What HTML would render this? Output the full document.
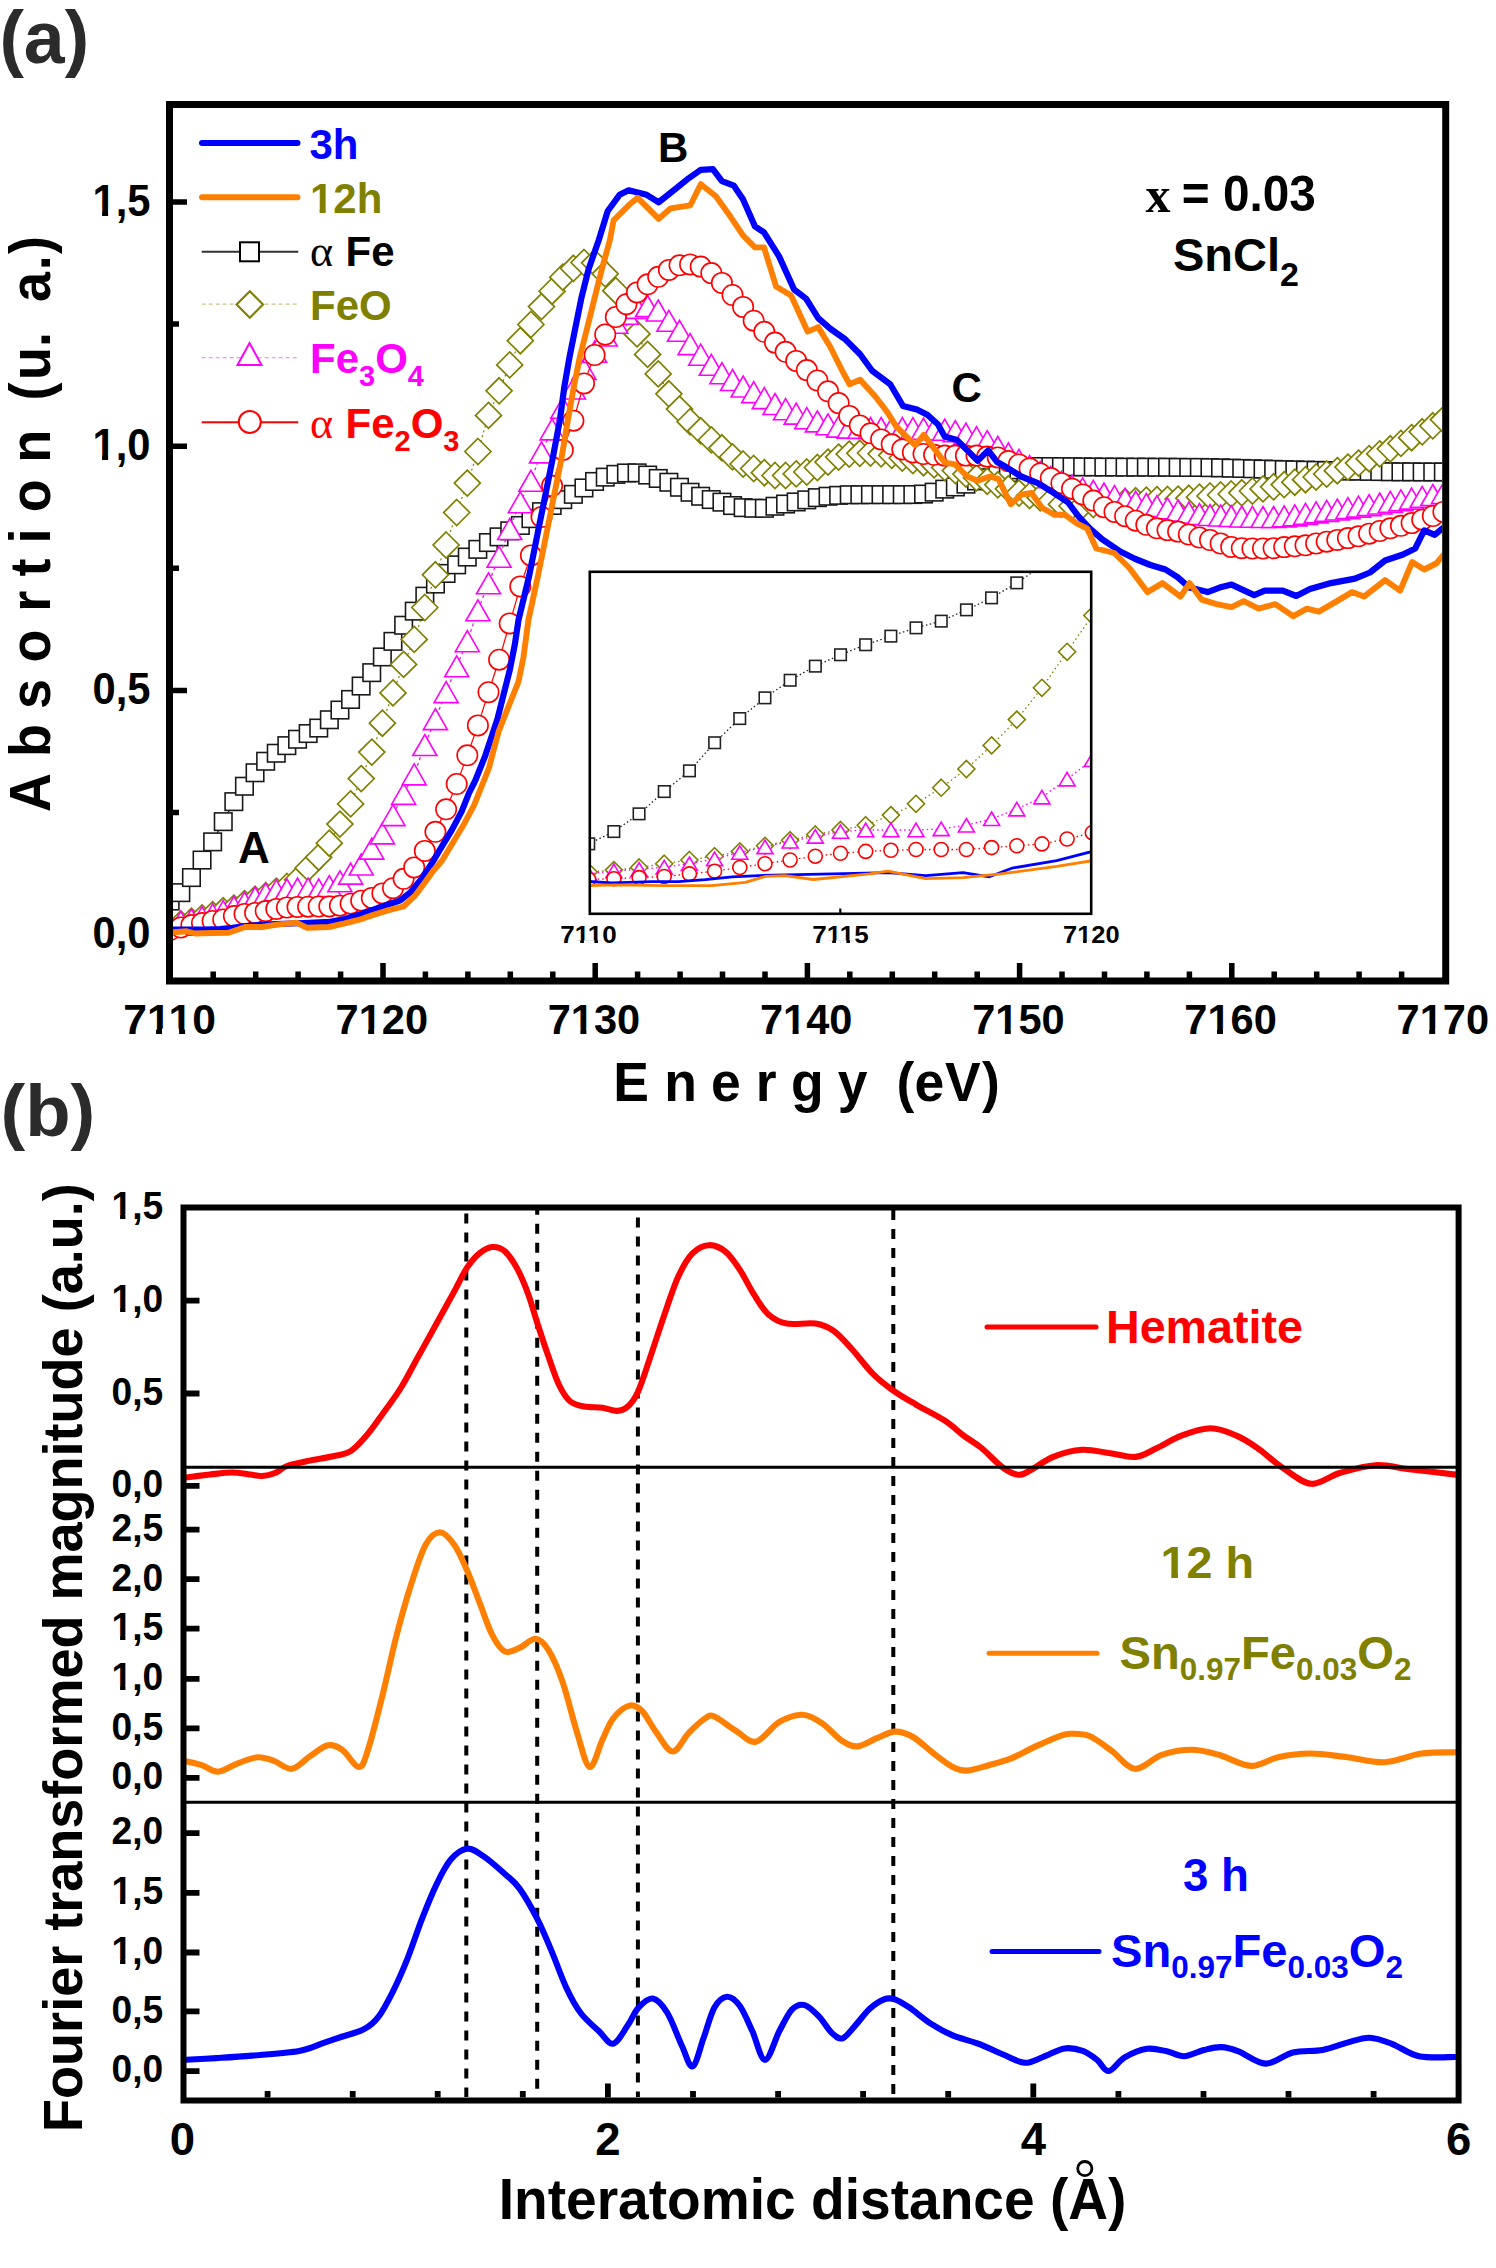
<!DOCTYPE html>
<html><head><meta charset="utf-8"><style>html,body{margin:0;padding:0;background:#fff;}svg{display:block;}</style></head><body>
<svg width="1496" height="2268" viewBox="0 0 1496 2268">
<rect width="1496" height="2268" fill="#fff"/>
<defs><clipPath id="ca"><rect x="173" y="108" width="1269" height="870"/></clipPath><clipPath id="ci"><rect x="589.8" y="571.8" width="501.4" height="342"/></clipPath><clipPath id="cb"><rect x="186" y="1210" width="1270" height="887"/></clipPath></defs>
<text x="-0.6" y="62.8" font-family="&apos;Liberation Sans&apos;, sans-serif" font-size="75" font-weight="bold" fill="#2b2b2b" text-anchor="start" textLength="89.8" lengthAdjust="spacingAndGlyphs" >(a)</text>
<text x="0.4" y="1135.8" font-family="&apos;Liberation Sans&apos;, sans-serif" font-size="73" font-weight="bold" fill="#2b2b2b" text-anchor="start" textLength="94.9" lengthAdjust="spacingAndGlyphs" >(b)</text>
<g clip-path="url(#ca)">
<path d="M170.2,901 L180.8,892.6 L191.4,877.5 L202,860 L212.6,841.9 L223.2,821.7 L233.9,801.7 L244.5,786.3 L255.1,772.8 L265.7,761.2 L276.3,753.3 L286.9,745.6 L297.5,739.2 L308.1,733.6 L318.7,728 L329.3,719.8 L339.9,710.1 L350.6,699.4 L361.2,686.1 L371.8,672.7 L382.4,656.9 L393,641.4 L403.6,625.2 L414.2,611.1 L424.8,596.2 L435.4,584.1 L446.1,573.5 L456.7,564.9 L467.3,557 L477.9,549.3 L488.5,542.5 L499.1,536.9 L509.7,530.9 L520.3,525.4 L530.9,518.6 L541.5,511.7 L552.1,505.4 L562.8,499.6 L573.4,494.3 L584,487.9 L594.6,481.4 L605.2,477.2 L615.8,474.4 L626.4,472.9 L637,472.9 L647.6,475 L658.2,478.5 L668.9,482.2 L679.5,487.2 L690.1,492.2 L700.7,496.3 L711.3,499.6 L721.9,502.2 L732.5,505.6 L743.1,507.6 L753.7,508.3 L764.3,508.3 L775,506.3 L785.6,504.1 L796.2,502 L806.8,499.9 L817.4,497.6 L828,496.2 L838.6,495.3 L849.2,494.8 L859.8,494.7 L870.5,494.7 L881.1,494.7 L891.7,494.7 L902.3,494.7 L912.9,494.5 L923.5,494.1 L934.1,492.1 L944.7,489.1 L955.3,486.9 L965.9,484.1 L976.5,480.9 L987.2,477.8 L997.8,475 L1008.4,472.5 L1019,469.9 L1029.6,467.7 L1040.2,466.5 L1050.8,466.5 L1061.4,466.6 L1072,466.7 L1082.6,466.9 L1093.3,467 L1103.9,467 L1114.5,467.1 L1125.1,467.1 L1135.7,467.1 L1146.3,467.2 L1156.9,467.2 L1167.5,467.3 L1178.1,467.3 L1188.8,467.4 L1199.4,467.5 L1210,467.6 L1220.6,467.9 L1231.2,468.2 L1241.8,468.5 L1252.4,468.8 L1263,469 L1273.6,469.3 L1284.2,469.6 L1294.8,469.9 L1305.5,470.1 L1316.1,470.3 L1326.7,470.6 L1337.3,470.8 L1347.9,471 L1358.5,471.2 L1369.1,471.4 L1379.7,471.5 L1390.3,471.7 L1400.9,471.8 L1411.6,471.9 L1422.2,471.9 L1432.8,472 L1443.4,472" fill="none" stroke="#1a1a1a" stroke-width="1.2" />
<g fill="#fff" stroke="#1a1a1a" stroke-width="1.6"><rect x="161.4" y="892.3" width="17.5" height="17.5"/><rect x="172.1" y="883.9" width="17.5" height="17.5"/><rect x="182.7" y="868.8" width="17.5" height="17.5"/><rect x="193.3" y="851.3" width="17.5" height="17.5"/><rect x="203.9" y="833.1" width="17.5" height="17.5"/><rect x="214.5" y="812.9" width="17.5" height="17.5"/><rect x="225.1" y="792.9" width="17.5" height="17.5"/><rect x="235.7" y="777.5" width="17.5" height="17.5"/><rect x="246.3" y="764" width="17.5" height="17.5"/><rect x="256.9" y="752.5" width="17.5" height="17.5"/><rect x="267.5" y="744.5" width="17.5" height="17.5"/><rect x="278.1" y="736.9" width="17.5" height="17.5"/><rect x="288.8" y="730.5" width="17.5" height="17.5"/><rect x="299.4" y="724.8" width="17.5" height="17.5"/><rect x="310" y="719.3" width="17.5" height="17.5"/><rect x="320.6" y="711" width="17.5" height="17.5"/><rect x="331.2" y="701.3" width="17.5" height="17.5"/><rect x="341.8" y="690.7" width="17.5" height="17.5"/><rect x="352.4" y="677.3" width="17.5" height="17.5"/><rect x="363" y="663.9" width="17.5" height="17.5"/><rect x="373.6" y="648.2" width="17.5" height="17.5"/><rect x="384.2" y="632.6" width="17.5" height="17.5"/><rect x="394.9" y="616.5" width="17.5" height="17.5"/><rect x="405.5" y="602.4" width="17.5" height="17.5"/><rect x="416.1" y="587.4" width="17.5" height="17.5"/><rect x="426.7" y="575.3" width="17.5" height="17.5"/><rect x="437.3" y="564.7" width="17.5" height="17.5"/><rect x="447.9" y="556.1" width="17.5" height="17.5"/><rect x="458.5" y="548.3" width="17.5" height="17.5"/><rect x="469.1" y="540.6" width="17.5" height="17.5"/><rect x="479.7" y="533.8" width="17.5" height="17.5"/><rect x="490.3" y="528.1" width="17.5" height="17.5"/><rect x="501" y="522.1" width="17.5" height="17.5"/><rect x="511.6" y="516.7" width="17.5" height="17.5"/><rect x="522.2" y="509.9" width="17.5" height="17.5"/><rect x="532.8" y="502.9" width="17.5" height="17.5"/><rect x="543.4" y="496.7" width="17.5" height="17.5"/><rect x="554" y="490.9" width="17.5" height="17.5"/><rect x="564.6" y="485.6" width="17.5" height="17.5"/><rect x="575.2" y="479.2" width="17.5" height="17.5"/><rect x="585.8" y="472.7" width="17.5" height="17.5"/><rect x="596.5" y="468.4" width="17.5" height="17.5"/><rect x="607.1" y="465.6" width="17.5" height="17.5"/><rect x="617.7" y="464.2" width="17.5" height="17.5"/><rect x="628.3" y="464.1" width="17.5" height="17.5"/><rect x="638.9" y="466.3" width="17.5" height="17.5"/><rect x="649.5" y="469.7" width="17.5" height="17.5"/><rect x="660.1" y="473.5" width="17.5" height="17.5"/><rect x="670.7" y="478.5" width="17.5" height="17.5"/><rect x="681.3" y="483.5" width="17.5" height="17.5"/><rect x="691.9" y="487.5" width="17.5" height="17.5"/><rect x="702.5" y="490.8" width="17.5" height="17.5"/><rect x="713.2" y="493.4" width="17.5" height="17.5"/><rect x="723.8" y="496.8" width="17.5" height="17.5"/><rect x="734.4" y="498.9" width="17.5" height="17.5"/><rect x="745" y="499.5" width="17.5" height="17.5"/><rect x="755.6" y="499.6" width="17.5" height="17.5"/><rect x="766.2" y="497.5" width="17.5" height="17.5"/><rect x="776.8" y="495.3" width="17.5" height="17.5"/><rect x="787.4" y="493.2" width="17.5" height="17.5"/><rect x="798" y="491.1" width="17.5" height="17.5"/><rect x="808.6" y="488.9" width="17.5" height="17.5"/><rect x="819.3" y="487.5" width="17.5" height="17.5"/><rect x="829.9" y="486.6" width="17.5" height="17.5"/><rect x="840.5" y="486" width="17.5" height="17.5"/><rect x="851.1" y="486" width="17.5" height="17.5"/><rect x="861.7" y="485.9" width="17.5" height="17.5"/><rect x="872.3" y="485.9" width="17.5" height="17.5"/><rect x="882.9" y="485.9" width="17.5" height="17.5"/><rect x="893.5" y="485.9" width="17.5" height="17.5"/><rect x="904.1" y="485.8" width="17.5" height="17.5"/><rect x="914.8" y="485.3" width="17.5" height="17.5"/><rect x="925.4" y="483.4" width="17.5" height="17.5"/><rect x="936" y="480.4" width="17.5" height="17.5"/><rect x="946.6" y="478.2" width="17.5" height="17.5"/><rect x="957.2" y="475.4" width="17.5" height="17.5"/><rect x="967.8" y="472.2" width="17.5" height="17.5"/><rect x="978.4" y="469" width="17.5" height="17.5"/><rect x="989" y="466.3" width="17.5" height="17.5"/><rect x="999.6" y="463.8" width="17.5" height="17.5"/><rect x="1010.2" y="461.1" width="17.5" height="17.5"/><rect x="1020.8" y="459" width="17.5" height="17.5"/><rect x="1031.5" y="457.8" width="17.5" height="17.5"/><rect x="1042.1" y="457.8" width="17.5" height="17.5"/><rect x="1052.7" y="457.9" width="17.5" height="17.5"/><rect x="1063.3" y="458" width="17.5" height="17.5"/><rect x="1073.9" y="458.1" width="17.5" height="17.5"/><rect x="1084.5" y="458.2" width="17.5" height="17.5"/><rect x="1095.1" y="458.3" width="17.5" height="17.5"/><rect x="1105.7" y="458.3" width="17.5" height="17.5"/><rect x="1116.3" y="458.4" width="17.5" height="17.5"/><rect x="1127" y="458.4" width="17.5" height="17.5"/><rect x="1137.6" y="458.4" width="17.5" height="17.5"/><rect x="1148.2" y="458.5" width="17.5" height="17.5"/><rect x="1158.8" y="458.5" width="17.5" height="17.5"/><rect x="1169.4" y="458.6" width="17.5" height="17.5"/><rect x="1180" y="458.7" width="17.5" height="17.5"/><rect x="1190.6" y="458.7" width="17.5" height="17.5"/><rect x="1201.2" y="458.9" width="17.5" height="17.5"/><rect x="1211.8" y="459.1" width="17.5" height="17.5"/><rect x="1222.4" y="459.4" width="17.5" height="17.5"/><rect x="1233" y="459.7" width="17.5" height="17.5"/><rect x="1243.7" y="460" width="17.5" height="17.5"/><rect x="1254.3" y="460.3" width="17.5" height="17.5"/><rect x="1264.9" y="460.6" width="17.5" height="17.5"/><rect x="1275.5" y="460.9" width="17.5" height="17.5"/><rect x="1286.1" y="461.1" width="17.5" height="17.5"/><rect x="1296.7" y="461.4" width="17.5" height="17.5"/><rect x="1307.3" y="461.6" width="17.5" height="17.5"/><rect x="1317.9" y="461.8" width="17.5" height="17.5"/><rect x="1328.5" y="462" width="17.5" height="17.5"/><rect x="1339.1" y="462.2" width="17.5" height="17.5"/><rect x="1349.8" y="462.4" width="17.5" height="17.5"/><rect x="1360.4" y="462.6" width="17.5" height="17.5"/><rect x="1371" y="462.8" width="17.5" height="17.5"/><rect x="1381.6" y="463" width="17.5" height="17.5"/><rect x="1392.2" y="463.1" width="17.5" height="17.5"/><rect x="1402.8" y="463.1" width="17.5" height="17.5"/><rect x="1413.4" y="463.2" width="17.5" height="17.5"/><rect x="1424" y="463.2" width="17.5" height="17.5"/><rect x="1434.6" y="463.2" width="17.5" height="17.5"/></g>
<path d="M170.2,928.9 L180.8,923.8 L191.4,921.2 L202,917.9 L212.6,914.7 L223.2,910.8 L233.9,908.1 L244.5,903.6 L255.1,899.3 L265.7,895.7 L276.3,891.2 L286.9,886.5 L297.5,879.7 L308.1,867.9 L318.7,857.2 L329.3,843.2 L339.9,824.1 L350.6,803.9 L361.2,778.6 L371.8,752.1 L382.4,723.2 L393,692.9 L403.6,664.4 L414.2,639.4 L424.8,607.5 L435.4,574.8 L446.1,545 L456.7,512.5 L467.3,483.1 L477.9,451.5 L488.5,415.4 L499.1,390.8 L509.7,364.9 L520.3,340.7 L530.9,324.5 L541.5,306.6 L552.1,291.2 L562.8,277.2 L573.4,268.3 L584,262.5 L594.6,262.8 L605.2,273.8 L615.8,290.7 L626.4,312.3 L637,333.9 L647.6,354.4 L658.2,373.9 L668.9,393.8 L679.5,409.1 L690.1,421.7 L700.7,430.8 L711.3,439.9 L721.9,447.8 L732.5,456.9 L743.1,464 L753.7,468.5 L764.3,472.7 L775,475.5 L785.6,475.5 L796.2,473.9 L806.8,472 L817.4,467.5 L828,462.1 L838.6,457.1 L849.2,454.1 L859.8,453.3 L870.5,453 L881.1,453.8 L891.7,455.3 L902.3,458 L912.9,460.6 L923.5,462.7 L934.1,464.9 L944.7,467.6 L955.3,470.6 L965.9,474.1 L976.5,477.8 L987.2,481.3 L997.8,484.8 L1008.4,488.8 L1019,493.1 L1029.6,495.6 L1040.2,497.7 L1050.8,501 L1061.4,504.2 L1072,506 L1082.6,505.3 L1093.3,504.5 L1103.9,503.5 L1114.5,502.5 L1125.1,501.6 L1135.7,500.8 L1146.3,500.2 L1156.9,499.7 L1167.5,499.5 L1178.1,499.1 L1188.8,498.3 L1199.4,497.2 L1210,496 L1220.6,495 L1231.2,494 L1241.8,492.8 L1252.4,491 L1263,488.9 L1273.6,486.8 L1284.2,484.6 L1294.8,482.2 L1305.5,479.7 L1316.1,477 L1326.7,474 L1337.3,470.7 L1347.9,467.1 L1358.5,463.1 L1369.1,458.7 L1379.7,453.9 L1390.3,448.8 L1400.9,443.4 L1411.6,437.7 L1422.2,431.8 L1432.8,425.8 L1443.4,419.6" fill="none" stroke="#808000" stroke-width="1.2" stroke-dasharray="2 3"/>
<g fill="#fff" stroke="#808000" stroke-width="1.7"><path d="M170.2,915.9 L183.2,928.9 L170.2,941.9 L157.2,928.9Z"/><path d="M180.8,910.8 L193.8,923.8 L180.8,936.8 L167.8,923.8Z"/><path d="M191.4,908.2 L204.4,921.2 L191.4,934.2 L178.4,921.2Z"/><path d="M202,904.9 L215,917.9 L202,930.9 L189,917.9Z"/><path d="M212.6,901.7 L225.6,914.7 L212.6,927.7 L199.6,914.7Z"/><path d="M223.2,897.8 L236.2,910.8 L223.2,923.8 L210.2,910.8Z"/><path d="M233.9,895.1 L246.9,908.1 L233.9,921.1 L220.9,908.1Z"/><path d="M244.5,890.6 L257.5,903.6 L244.5,916.6 L231.5,903.6Z"/><path d="M255.1,886.3 L268.1,899.3 L255.1,912.3 L242.1,899.3Z"/><path d="M265.7,882.7 L278.7,895.7 L265.7,908.7 L252.7,895.7Z"/><path d="M276.3,878.2 L289.3,891.2 L276.3,904.2 L263.3,891.2Z"/><path d="M286.9,873.5 L299.9,886.5 L286.9,899.5 L273.9,886.5Z"/><path d="M297.5,866.7 L310.5,879.7 L297.5,892.7 L284.5,879.7Z"/><path d="M308.1,854.9 L321.1,867.9 L308.1,880.9 L295.1,867.9Z"/><path d="M318.7,844.2 L331.7,857.2 L318.7,870.2 L305.7,857.2Z"/><path d="M329.3,830.2 L342.3,843.2 L329.3,856.2 L316.3,843.2Z"/><path d="M339.9,811.1 L352.9,824.1 L339.9,837.1 L326.9,824.1Z"/><path d="M350.6,790.9 L363.6,803.9 L350.6,816.9 L337.6,803.9Z"/><path d="M361.2,765.6 L374.2,778.6 L361.2,791.6 L348.2,778.6Z"/><path d="M371.8,739.1 L384.8,752.1 L371.8,765.1 L358.8,752.1Z"/><path d="M382.4,710.2 L395.4,723.2 L382.4,736.2 L369.4,723.2Z"/><path d="M393,679.9 L406,692.9 L393,705.9 L380,692.9Z"/><path d="M403.6,651.4 L416.6,664.4 L403.6,677.4 L390.6,664.4Z"/><path d="M414.2,626.4 L427.2,639.4 L414.2,652.4 L401.2,639.4Z"/><path d="M424.8,594.5 L437.8,607.5 L424.8,620.5 L411.8,607.5Z"/><path d="M435.4,561.8 L448.4,574.8 L435.4,587.8 L422.4,574.8Z"/><path d="M446.1,532 L459.1,545 L446.1,558 L433.1,545Z"/><path d="M456.7,499.5 L469.7,512.5 L456.7,525.5 L443.7,512.5Z"/><path d="M467.3,470.1 L480.3,483.1 L467.3,496.1 L454.3,483.1Z"/><path d="M477.9,438.5 L490.9,451.5 L477.9,464.5 L464.9,451.5Z"/><path d="M488.5,402.4 L501.5,415.4 L488.5,428.4 L475.5,415.4Z"/><path d="M499.1,377.8 L512.1,390.8 L499.1,403.8 L486.1,390.8Z"/><path d="M509.7,351.9 L522.7,364.9 L509.7,377.9 L496.7,364.9Z"/><path d="M520.3,327.7 L533.3,340.7 L520.3,353.7 L507.3,340.7Z"/><path d="M530.9,311.5 L543.9,324.5 L530.9,337.5 L517.9,324.5Z"/><path d="M541.5,293.6 L554.5,306.6 L541.5,319.6 L528.5,306.6Z"/><path d="M552.1,278.2 L565.1,291.2 L552.1,304.2 L539.1,291.2Z"/><path d="M562.8,264.2 L575.8,277.2 L562.8,290.2 L549.8,277.2Z"/><path d="M573.4,255.3 L586.4,268.3 L573.4,281.3 L560.4,268.3Z"/><path d="M584,249.5 L597,262.5 L584,275.5 L571,262.5Z"/><path d="M594.6,249.8 L607.6,262.8 L594.6,275.8 L581.6,262.8Z"/><path d="M605.2,260.8 L618.2,273.8 L605.2,286.8 L592.2,273.8Z"/><path d="M615.8,277.7 L628.8,290.7 L615.8,303.7 L602.8,290.7Z"/><path d="M626.4,299.3 L639.4,312.3 L626.4,325.3 L613.4,312.3Z"/><path d="M637,320.9 L650,333.9 L637,346.9 L624,333.9Z"/><path d="M647.6,341.4 L660.6,354.4 L647.6,367.4 L634.6,354.4Z"/><path d="M658.2,360.9 L671.2,373.9 L658.2,386.9 L645.2,373.9Z"/><path d="M668.9,380.8 L681.9,393.8 L668.9,406.8 L655.9,393.8Z"/><path d="M679.5,396.1 L692.5,409.1 L679.5,422.1 L666.5,409.1Z"/><path d="M690.1,408.7 L703.1,421.7 L690.1,434.7 L677.1,421.7Z"/><path d="M700.7,417.8 L713.7,430.8 L700.7,443.8 L687.7,430.8Z"/><path d="M711.3,426.9 L724.3,439.9 L711.3,452.9 L698.3,439.9Z"/><path d="M721.9,434.8 L734.9,447.8 L721.9,460.8 L708.9,447.8Z"/><path d="M732.5,443.9 L745.5,456.9 L732.5,469.9 L719.5,456.9Z"/><path d="M743.1,451 L756.1,464 L743.1,477 L730.1,464Z"/><path d="M753.7,455.5 L766.7,468.5 L753.7,481.5 L740.7,468.5Z"/><path d="M764.3,459.7 L777.3,472.7 L764.3,485.7 L751.3,472.7Z"/><path d="M775,462.5 L788,475.5 L775,488.5 L762,475.5Z"/><path d="M785.6,462.5 L798.6,475.5 L785.6,488.5 L772.6,475.5Z"/><path d="M796.2,460.9 L809.2,473.9 L796.2,486.9 L783.2,473.9Z"/><path d="M806.8,459 L819.8,472 L806.8,485 L793.8,472Z"/><path d="M817.4,454.5 L830.4,467.5 L817.4,480.5 L804.4,467.5Z"/><path d="M828,449.1 L841,462.1 L828,475.1 L815,462.1Z"/><path d="M838.6,444.1 L851.6,457.1 L838.6,470.1 L825.6,457.1Z"/><path d="M849.2,441.1 L862.2,454.1 L849.2,467.1 L836.2,454.1Z"/><path d="M859.8,440.3 L872.8,453.3 L859.8,466.3 L846.8,453.3Z"/><path d="M870.5,440 L883.5,453 L870.5,466 L857.5,453Z"/><path d="M881.1,440.8 L894.1,453.8 L881.1,466.8 L868.1,453.8Z"/><path d="M891.7,442.3 L904.7,455.3 L891.7,468.3 L878.7,455.3Z"/><path d="M902.3,445 L915.3,458 L902.3,471 L889.3,458Z"/><path d="M912.9,447.6 L925.9,460.6 L912.9,473.6 L899.9,460.6Z"/><path d="M923.5,449.7 L936.5,462.7 L923.5,475.7 L910.5,462.7Z"/><path d="M934.1,451.9 L947.1,464.9 L934.1,477.9 L921.1,464.9Z"/><path d="M944.7,454.6 L957.7,467.6 L944.7,480.6 L931.7,467.6Z"/><path d="M955.3,457.6 L968.3,470.6 L955.3,483.6 L942.3,470.6Z"/><path d="M965.9,461.1 L978.9,474.1 L965.9,487.1 L952.9,474.1Z"/><path d="M976.5,464.8 L989.5,477.8 L976.5,490.8 L963.5,477.8Z"/><path d="M987.2,468.3 L1000.2,481.3 L987.2,494.3 L974.2,481.3Z"/><path d="M997.8,471.8 L1010.8,484.8 L997.8,497.8 L984.8,484.8Z"/><path d="M1008.4,475.8 L1021.4,488.8 L1008.4,501.8 L995.4,488.8Z"/><path d="M1019,480.1 L1032,493.1 L1019,506.1 L1006,493.1Z"/><path d="M1029.6,482.6 L1042.6,495.6 L1029.6,508.6 L1016.6,495.6Z"/><path d="M1040.2,484.7 L1053.2,497.7 L1040.2,510.7 L1027.2,497.7Z"/><path d="M1050.8,488 L1063.8,501 L1050.8,514 L1037.8,501Z"/><path d="M1061.4,491.2 L1074.4,504.2 L1061.4,517.2 L1048.4,504.2Z"/><path d="M1072,493 L1085,506 L1072,519 L1059,506Z"/><path d="M1082.6,492.3 L1095.6,505.3 L1082.6,518.3 L1069.6,505.3Z"/><path d="M1093.3,491.5 L1106.3,504.5 L1093.3,517.5 L1080.3,504.5Z"/><path d="M1103.9,490.5 L1116.9,503.5 L1103.9,516.5 L1090.9,503.5Z"/><path d="M1114.5,489.5 L1127.5,502.5 L1114.5,515.5 L1101.5,502.5Z"/><path d="M1125.1,488.6 L1138.1,501.6 L1125.1,514.6 L1112.1,501.6Z"/><path d="M1135.7,487.8 L1148.7,500.8 L1135.7,513.8 L1122.7,500.8Z"/><path d="M1146.3,487.2 L1159.3,500.2 L1146.3,513.2 L1133.3,500.2Z"/><path d="M1156.9,486.7 L1169.9,499.7 L1156.9,512.7 L1143.9,499.7Z"/><path d="M1167.5,486.5 L1180.5,499.5 L1167.5,512.5 L1154.5,499.5Z"/><path d="M1178.1,486.1 L1191.1,499.1 L1178.1,512.1 L1165.1,499.1Z"/><path d="M1188.8,485.3 L1201.8,498.3 L1188.8,511.3 L1175.8,498.3Z"/><path d="M1199.4,484.2 L1212.4,497.2 L1199.4,510.2 L1186.4,497.2Z"/><path d="M1210,483 L1223,496 L1210,509 L1197,496Z"/><path d="M1220.6,482 L1233.6,495 L1220.6,508 L1207.6,495Z"/><path d="M1231.2,481 L1244.2,494 L1231.2,507 L1218.2,494Z"/><path d="M1241.8,479.8 L1254.8,492.8 L1241.8,505.8 L1228.8,492.8Z"/><path d="M1252.4,478 L1265.4,491 L1252.4,504 L1239.4,491Z"/><path d="M1263,475.9 L1276,488.9 L1263,501.9 L1250,488.9Z"/><path d="M1273.6,473.8 L1286.6,486.8 L1273.6,499.8 L1260.6,486.8Z"/><path d="M1284.2,471.6 L1297.2,484.6 L1284.2,497.6 L1271.2,484.6Z"/><path d="M1294.8,469.2 L1307.8,482.2 L1294.8,495.2 L1281.8,482.2Z"/><path d="M1305.5,466.7 L1318.5,479.7 L1305.5,492.7 L1292.5,479.7Z"/><path d="M1316.1,464 L1329.1,477 L1316.1,490 L1303.1,477Z"/><path d="M1326.7,461 L1339.7,474 L1326.7,487 L1313.7,474Z"/><path d="M1337.3,457.7 L1350.3,470.7 L1337.3,483.7 L1324.3,470.7Z"/><path d="M1347.9,454.1 L1360.9,467.1 L1347.9,480.1 L1334.9,467.1Z"/><path d="M1358.5,450.1 L1371.5,463.1 L1358.5,476.1 L1345.5,463.1Z"/><path d="M1369.1,445.7 L1382.1,458.7 L1369.1,471.7 L1356.1,458.7Z"/><path d="M1379.7,440.9 L1392.7,453.9 L1379.7,466.9 L1366.7,453.9Z"/><path d="M1390.3,435.8 L1403.3,448.8 L1390.3,461.8 L1377.3,448.8Z"/><path d="M1400.9,430.4 L1413.9,443.4 L1400.9,456.4 L1387.9,443.4Z"/><path d="M1411.6,424.7 L1424.6,437.7 L1411.6,450.7 L1398.6,437.7Z"/><path d="M1422.2,418.8 L1435.2,431.8 L1422.2,444.8 L1409.2,431.8Z"/><path d="M1432.8,412.8 L1445.8,425.8 L1432.8,438.8 L1419.8,425.8Z"/><path d="M1443.4,406.6 L1456.4,419.6 L1443.4,432.6 L1430.4,419.6Z"/></g>
<path d="M170.2,924 L180.8,921.8 L191.4,919.5 L202,917.2 L212.6,914.4 L223.2,911.1 L233.9,906.9 L244.5,902.6 L255.1,897.5 L265.7,893.6 L276.3,890.3 L286.9,889.5 L297.5,888.7 L308.1,888.7 L318.7,889.5 L329.3,886.1 L339.9,881.3 L350.6,873.6 L361.2,864.5 L371.8,848.6 L382.4,833.4 L393,815.1 L403.6,793.9 L414.2,774.4 L424.8,745 L435.4,719.1 L446.1,692.1 L456.7,666.3 L467.3,641.2 L477.9,610.3 L488.5,583.3 L499.1,556.8 L509.7,529 L520.3,502.3 L530.9,480.8 L541.5,452.4 L552.1,429.4 L562.8,407.8 L573.4,388.5 L584,368.9 L594.6,351.7 L605.2,335.5 L615.8,322.8 L626.4,313.8 L637,307.9 L647.6,306 L658.2,310.5 L668.9,320.8 L679.5,330.8 L690.1,344.1 L700.7,354.7 L711.3,364.8 L721.9,373.2 L732.5,380 L743.1,386.5 L753.7,392.1 L764.3,398.1 L775,404 L785.6,409.2 L796.2,413.6 L806.8,418.2 L817.4,421.4 L828,424.3 L838.6,426.6 L849.2,427.6 L859.8,427.9 L870.5,428 L881.1,428 L891.7,428 L902.3,428 L912.9,428.2 L923.5,428.7 L934.1,429.2 L944.7,429.7 L955.3,431.1 L965.9,433.7 L976.5,437.1 L987.2,441.2 L997.8,446.8 L1008.4,453.4 L1019,459.8 L1029.6,466.1 L1040.2,472.1 L1050.8,477.2 L1061.4,481.9 L1072,485.7 L1082.6,488.4 L1093.3,490.8 L1103.9,493.5 L1114.5,496.2 L1125.1,498.9 L1135.7,501.6 L1146.3,504 L1156.9,506.1 L1167.5,508.4 L1178.1,510.5 L1188.8,512.5 L1199.4,514 L1210,515 L1220.6,515.5 L1231.2,516 L1241.8,516.5 L1252.4,516.8 L1263,517 L1273.6,517 L1284.2,516.4 L1294.8,515.4 L1305.5,513.9 L1316.1,512.4 L1326.7,510.9 L1337.3,509.5 L1347.9,508.1 L1358.5,506.6 L1369.1,505.1 L1379.7,503.5 L1390.3,501.9 L1400.9,500.3 L1411.6,498.6 L1422.2,496.8 L1432.8,495 L1443.4,493.1" fill="none" stroke="#ff00ff" stroke-width="1.2" stroke-dasharray="3 3"/>
<g fill="#fff" stroke="#ff00ff" stroke-width="1.6"><path d="M170.2,913.5 L182.2,934.5 L158.2,934.5Z"/><path d="M180.8,911.3 L192.8,932.3 L168.8,932.3Z"/><path d="M191.4,909 L203.4,930 L179.4,930Z"/><path d="M202,906.7 L214,927.7 L190,927.7Z"/><path d="M212.6,903.9 L224.6,924.9 L200.6,924.9Z"/><path d="M223.2,900.6 L235.2,921.6 L211.2,921.6Z"/><path d="M233.9,896.4 L245.9,917.4 L221.9,917.4Z"/><path d="M244.5,892.1 L256.5,913.1 L232.5,913.1Z"/><path d="M255.1,887 L267.1,908 L243.1,908Z"/><path d="M265.7,883.1 L277.7,904.1 L253.7,904.1Z"/><path d="M276.3,879.8 L288.3,900.8 L264.3,900.8Z"/><path d="M286.9,879 L298.9,900 L274.9,900Z"/><path d="M297.5,878.2 L309.5,899.2 L285.5,899.2Z"/><path d="M308.1,878.2 L320.1,899.2 L296.1,899.2Z"/><path d="M318.7,879 L330.7,900 L306.7,900Z"/><path d="M329.3,875.6 L341.3,896.6 L317.3,896.6Z"/><path d="M339.9,870.8 L351.9,891.8 L327.9,891.8Z"/><path d="M350.6,863.1 L362.6,884.1 L338.6,884.1Z"/><path d="M361.2,854 L373.2,875 L349.2,875Z"/><path d="M371.8,838.1 L383.8,859.1 L359.8,859.1Z"/><path d="M382.4,822.9 L394.4,843.9 L370.4,843.9Z"/><path d="M393,804.6 L405,825.6 L381,825.6Z"/><path d="M403.6,783.4 L415.6,804.4 L391.6,804.4Z"/><path d="M414.2,763.9 L426.2,784.9 L402.2,784.9Z"/><path d="M424.8,734.5 L436.8,755.5 L412.8,755.5Z"/><path d="M435.4,708.6 L447.4,729.6 L423.4,729.6Z"/><path d="M446.1,681.6 L458.1,702.6 L434.1,702.6Z"/><path d="M456.7,655.8 L468.7,676.8 L444.7,676.8Z"/><path d="M467.3,630.7 L479.3,651.7 L455.3,651.7Z"/><path d="M477.9,599.8 L489.9,620.8 L465.9,620.8Z"/><path d="M488.5,572.8 L500.5,593.8 L476.5,593.8Z"/><path d="M499.1,546.3 L511.1,567.3 L487.1,567.3Z"/><path d="M509.7,518.5 L521.7,539.5 L497.7,539.5Z"/><path d="M520.3,491.8 L532.3,512.8 L508.3,512.8Z"/><path d="M530.9,470.3 L542.9,491.3 L518.9,491.3Z"/><path d="M541.5,441.9 L553.5,462.9 L529.5,462.9Z"/><path d="M552.1,418.9 L564.1,439.9 L540.1,439.9Z"/><path d="M562.8,397.3 L574.8,418.3 L550.8,418.3Z"/><path d="M573.4,378 L585.4,399 L561.4,399Z"/><path d="M584,358.4 L596,379.4 L572,379.4Z"/><path d="M594.6,341.2 L606.6,362.2 L582.6,362.2Z"/><path d="M605.2,325 L617.2,346 L593.2,346Z"/><path d="M615.8,312.3 L627.8,333.3 L603.8,333.3Z"/><path d="M626.4,303.3 L638.4,324.3 L614.4,324.3Z"/><path d="M637,297.4 L649,318.4 L625,318.4Z"/><path d="M647.6,295.5 L659.6,316.5 L635.6,316.5Z"/><path d="M658.2,300 L670.2,321 L646.2,321Z"/><path d="M668.9,310.3 L680.9,331.3 L656.9,331.3Z"/><path d="M679.5,320.3 L691.5,341.3 L667.5,341.3Z"/><path d="M690.1,333.6 L702.1,354.6 L678.1,354.6Z"/><path d="M700.7,344.2 L712.7,365.2 L688.7,365.2Z"/><path d="M711.3,354.3 L723.3,375.3 L699.3,375.3Z"/><path d="M721.9,362.7 L733.9,383.7 L709.9,383.7Z"/><path d="M732.5,369.5 L744.5,390.5 L720.5,390.5Z"/><path d="M743.1,376 L755.1,397 L731.1,397Z"/><path d="M753.7,381.6 L765.7,402.6 L741.7,402.6Z"/><path d="M764.3,387.6 L776.3,408.6 L752.3,408.6Z"/><path d="M775,393.5 L787,414.5 L763,414.5Z"/><path d="M785.6,398.7 L797.6,419.7 L773.6,419.7Z"/><path d="M796.2,403.1 L808.2,424.1 L784.2,424.1Z"/><path d="M806.8,407.7 L818.8,428.7 L794.8,428.7Z"/><path d="M817.4,410.9 L829.4,431.9 L805.4,431.9Z"/><path d="M828,413.8 L840,434.8 L816,434.8Z"/><path d="M838.6,416.1 L850.6,437.1 L826.6,437.1Z"/><path d="M849.2,417.1 L861.2,438.1 L837.2,438.1Z"/><path d="M859.8,417.4 L871.8,438.4 L847.8,438.4Z"/><path d="M870.5,417.5 L882.5,438.5 L858.5,438.5Z"/><path d="M881.1,417.5 L893.1,438.5 L869.1,438.5Z"/><path d="M891.7,417.5 L903.7,438.5 L879.7,438.5Z"/><path d="M902.3,417.5 L914.3,438.5 L890.3,438.5Z"/><path d="M912.9,417.7 L924.9,438.7 L900.9,438.7Z"/><path d="M923.5,418.2 L935.5,439.2 L911.5,439.2Z"/><path d="M934.1,418.7 L946.1,439.7 L922.1,439.7Z"/><path d="M944.7,419.2 L956.7,440.2 L932.7,440.2Z"/><path d="M955.3,420.6 L967.3,441.6 L943.3,441.6Z"/><path d="M965.9,423.2 L977.9,444.2 L953.9,444.2Z"/><path d="M976.5,426.6 L988.5,447.6 L964.5,447.6Z"/><path d="M987.2,430.7 L999.2,451.7 L975.2,451.7Z"/><path d="M997.8,436.3 L1009.8,457.3 L985.8,457.3Z"/><path d="M1008.4,442.9 L1020.4,463.9 L996.4,463.9Z"/><path d="M1019,449.3 L1031,470.3 L1007,470.3Z"/><path d="M1029.6,455.6 L1041.6,476.6 L1017.6,476.6Z"/><path d="M1040.2,461.6 L1052.2,482.6 L1028.2,482.6Z"/><path d="M1050.8,466.7 L1062.8,487.7 L1038.8,487.7Z"/><path d="M1061.4,471.4 L1073.4,492.4 L1049.4,492.4Z"/><path d="M1072,475.2 L1084,496.2 L1060,496.2Z"/><path d="M1082.6,477.9 L1094.6,498.9 L1070.6,498.9Z"/><path d="M1093.3,480.3 L1105.3,501.3 L1081.3,501.3Z"/><path d="M1103.9,483 L1115.9,504 L1091.9,504Z"/><path d="M1114.5,485.7 L1126.5,506.7 L1102.5,506.7Z"/><path d="M1125.1,488.4 L1137.1,509.4 L1113.1,509.4Z"/><path d="M1135.7,491.1 L1147.7,512.1 L1123.7,512.1Z"/><path d="M1146.3,493.5 L1158.3,514.5 L1134.3,514.5Z"/><path d="M1156.9,495.6 L1168.9,516.6 L1144.9,516.6Z"/><path d="M1167.5,497.9 L1179.5,518.9 L1155.5,518.9Z"/><path d="M1178.1,500 L1190.1,521 L1166.1,521Z"/><path d="M1188.8,502 L1200.8,523 L1176.8,523Z"/><path d="M1199.4,503.5 L1211.4,524.5 L1187.4,524.5Z"/><path d="M1210,504.5 L1222,525.5 L1198,525.5Z"/><path d="M1220.6,505 L1232.6,526 L1208.6,526Z"/><path d="M1231.2,505.5 L1243.2,526.5 L1219.2,526.5Z"/><path d="M1241.8,506 L1253.8,527 L1229.8,527Z"/><path d="M1252.4,506.3 L1264.4,527.3 L1240.4,527.3Z"/><path d="M1263,506.5 L1275,527.5 L1251,527.5Z"/><path d="M1273.6,506.5 L1285.6,527.5 L1261.6,527.5Z"/><path d="M1284.2,505.9 L1296.2,526.9 L1272.2,526.9Z"/><path d="M1294.8,504.9 L1306.8,525.9 L1282.8,525.9Z"/><path d="M1305.5,503.4 L1317.5,524.4 L1293.5,524.4Z"/><path d="M1316.1,501.9 L1328.1,522.9 L1304.1,522.9Z"/><path d="M1326.7,500.4 L1338.7,521.4 L1314.7,521.4Z"/><path d="M1337.3,499 L1349.3,520 L1325.3,520Z"/><path d="M1347.9,497.6 L1359.9,518.6 L1335.9,518.6Z"/><path d="M1358.5,496.1 L1370.5,517.1 L1346.5,517.1Z"/><path d="M1369.1,494.6 L1381.1,515.6 L1357.1,515.6Z"/><path d="M1379.7,493 L1391.7,514 L1367.7,514Z"/><path d="M1390.3,491.4 L1402.3,512.4 L1378.3,512.4Z"/><path d="M1400.9,489.8 L1412.9,510.8 L1388.9,510.8Z"/><path d="M1411.6,488.1 L1423.6,509.1 L1399.6,509.1Z"/><path d="M1422.2,486.3 L1434.2,507.3 L1410.2,507.3Z"/><path d="M1432.8,484.5 L1444.8,505.5 L1420.8,505.5Z"/><path d="M1443.4,482.6 L1455.4,503.6 L1431.4,503.6Z"/></g>
<path d="M170.2,930 L180.8,927.5 L191.4,925.1 L202,923.1 L212.6,921 L223.2,919.5 L233.9,916.1 L244.5,914 L255.1,912.9 L265.7,911.1 L276.3,908.9 L286.9,907.5 L297.5,906.9 L308.1,906.7 L318.7,906.5 L329.3,906.4 L339.9,905.7 L350.6,903.7 L361.2,900.7 L371.8,897.9 L382.4,893.4 L393,888.2 L403.6,878.8 L414.2,867.4 L424.8,850.9 L435.4,831.8 L446.1,809.3 L456.7,784 L467.3,755.3 L477.9,725.4 L488.5,692.2 L499.1,659.7 L509.7,623.4 L520.3,586.4 L530.9,555.4 L541.5,516.9 L552.1,485.8 L562.8,449.9 L573.4,420.7 L584,383.4 L594.6,355 L605.2,334.5 L615.8,317 L626.4,304.2 L637,292.4 L647.6,284.3 L658.2,276.8 L668.9,269.9 L679.5,265.3 L690.1,264.4 L700.7,266.6 L711.3,273.1 L721.9,282.9 L732.5,295 L743.1,306.9 L753.7,320.7 L764.3,331.8 L775,342.6 L785.6,351.8 L796.2,360.9 L806.8,370.1 L817.4,380.5 L828,391.3 L838.6,403.1 L849.2,415.9 L859.8,425.4 L870.5,433.3 L881.1,439.4 L891.7,444.3 L902.3,449.4 L912.9,452.4 L923.5,454 L934.1,454.8 L944.7,455.6 L955.3,455.6 L965.9,455.6 L976.5,455.6 L987.2,456.6 L997.8,457.4 L1008.4,461.1 L1019,464.4 L1029.6,468.4 L1040.2,473.5 L1050.8,478.1 L1061.4,483.2 L1072,488.7 L1082.6,494.4 L1093.3,500.6 L1103.9,507.2 L1114.5,511.9 L1125.1,516.2 L1135.7,520.7 L1146.3,524.8 L1156.9,528.3 L1167.5,530.1 L1178.1,531.6 L1188.8,534.5 L1199.4,537.5 L1210,540 L1220.6,543.5 L1231.2,546.9 L1241.8,548.2 L1252.4,548.5 L1263,548.5 L1273.6,548.2 L1284.2,547.1 L1294.8,546.3 L1305.5,545.3 L1316.1,543.5 L1326.7,541.7 L1337.3,539.9 L1347.9,538.1 L1358.5,536.3 L1369.1,533.7 L1379.7,531 L1390.3,528.3 L1400.9,525.8 L1411.6,523.1 L1422.2,519.7 L1432.8,516 L1443.4,511.9" fill="none" stroke="#ff0000" stroke-width="1.2" />
<g fill="#fff" stroke="#ff0000" stroke-width="1.6"><circle cx="170.2" cy="930" r="10.2"/><circle cx="180.8" cy="927.5" r="10.2"/><circle cx="191.4" cy="925.1" r="10.2"/><circle cx="202" cy="923.1" r="10.2"/><circle cx="212.6" cy="921" r="10.2"/><circle cx="223.2" cy="919.5" r="10.2"/><circle cx="233.9" cy="916.1" r="10.2"/><circle cx="244.5" cy="914" r="10.2"/><circle cx="255.1" cy="912.9" r="10.2"/><circle cx="265.7" cy="911.1" r="10.2"/><circle cx="276.3" cy="908.9" r="10.2"/><circle cx="286.9" cy="907.5" r="10.2"/><circle cx="297.5" cy="906.9" r="10.2"/><circle cx="308.1" cy="906.7" r="10.2"/><circle cx="318.7" cy="906.5" r="10.2"/><circle cx="329.3" cy="906.4" r="10.2"/><circle cx="339.9" cy="905.7" r="10.2"/><circle cx="350.6" cy="903.7" r="10.2"/><circle cx="361.2" cy="900.7" r="10.2"/><circle cx="371.8" cy="897.9" r="10.2"/><circle cx="382.4" cy="893.4" r="10.2"/><circle cx="393" cy="888.2" r="10.2"/><circle cx="403.6" cy="878.8" r="10.2"/><circle cx="414.2" cy="867.4" r="10.2"/><circle cx="424.8" cy="850.9" r="10.2"/><circle cx="435.4" cy="831.8" r="10.2"/><circle cx="446.1" cy="809.3" r="10.2"/><circle cx="456.7" cy="784" r="10.2"/><circle cx="467.3" cy="755.3" r="10.2"/><circle cx="477.9" cy="725.4" r="10.2"/><circle cx="488.5" cy="692.2" r="10.2"/><circle cx="499.1" cy="659.7" r="10.2"/><circle cx="509.7" cy="623.4" r="10.2"/><circle cx="520.3" cy="586.4" r="10.2"/><circle cx="530.9" cy="555.4" r="10.2"/><circle cx="541.5" cy="516.9" r="10.2"/><circle cx="552.1" cy="485.8" r="10.2"/><circle cx="562.8" cy="449.9" r="10.2"/><circle cx="573.4" cy="420.7" r="10.2"/><circle cx="584" cy="383.4" r="10.2"/><circle cx="594.6" cy="355" r="10.2"/><circle cx="605.2" cy="334.5" r="10.2"/><circle cx="615.8" cy="317" r="10.2"/><circle cx="626.4" cy="304.2" r="10.2"/><circle cx="637" cy="292.4" r="10.2"/><circle cx="647.6" cy="284.3" r="10.2"/><circle cx="658.2" cy="276.8" r="10.2"/><circle cx="668.9" cy="269.9" r="10.2"/><circle cx="679.5" cy="265.3" r="10.2"/><circle cx="690.1" cy="264.4" r="10.2"/><circle cx="700.7" cy="266.6" r="10.2"/><circle cx="711.3" cy="273.1" r="10.2"/><circle cx="721.9" cy="282.9" r="10.2"/><circle cx="732.5" cy="295" r="10.2"/><circle cx="743.1" cy="306.9" r="10.2"/><circle cx="753.7" cy="320.7" r="10.2"/><circle cx="764.3" cy="331.8" r="10.2"/><circle cx="775" cy="342.6" r="10.2"/><circle cx="785.6" cy="351.8" r="10.2"/><circle cx="796.2" cy="360.9" r="10.2"/><circle cx="806.8" cy="370.1" r="10.2"/><circle cx="817.4" cy="380.5" r="10.2"/><circle cx="828" cy="391.3" r="10.2"/><circle cx="838.6" cy="403.1" r="10.2"/><circle cx="849.2" cy="415.9" r="10.2"/><circle cx="859.8" cy="425.4" r="10.2"/><circle cx="870.5" cy="433.3" r="10.2"/><circle cx="881.1" cy="439.4" r="10.2"/><circle cx="891.7" cy="444.3" r="10.2"/><circle cx="902.3" cy="449.4" r="10.2"/><circle cx="912.9" cy="452.4" r="10.2"/><circle cx="923.5" cy="454" r="10.2"/><circle cx="934.1" cy="454.8" r="10.2"/><circle cx="944.7" cy="455.6" r="10.2"/><circle cx="955.3" cy="455.6" r="10.2"/><circle cx="965.9" cy="455.6" r="10.2"/><circle cx="976.5" cy="455.6" r="10.2"/><circle cx="987.2" cy="456.6" r="10.2"/><circle cx="997.8" cy="457.4" r="10.2"/><circle cx="1008.4" cy="461.1" r="10.2"/><circle cx="1019" cy="464.4" r="10.2"/><circle cx="1029.6" cy="468.4" r="10.2"/><circle cx="1040.2" cy="473.5" r="10.2"/><circle cx="1050.8" cy="478.1" r="10.2"/><circle cx="1061.4" cy="483.2" r="10.2"/><circle cx="1072" cy="488.7" r="10.2"/><circle cx="1082.6" cy="494.4" r="10.2"/><circle cx="1093.3" cy="500.6" r="10.2"/><circle cx="1103.9" cy="507.2" r="10.2"/><circle cx="1114.5" cy="511.9" r="10.2"/><circle cx="1125.1" cy="516.2" r="10.2"/><circle cx="1135.7" cy="520.7" r="10.2"/><circle cx="1146.3" cy="524.8" r="10.2"/><circle cx="1156.9" cy="528.3" r="10.2"/><circle cx="1167.5" cy="530.1" r="10.2"/><circle cx="1178.1" cy="531.6" r="10.2"/><circle cx="1188.8" cy="534.5" r="10.2"/><circle cx="1199.4" cy="537.5" r="10.2"/><circle cx="1210" cy="540" r="10.2"/><circle cx="1220.6" cy="543.5" r="10.2"/><circle cx="1231.2" cy="546.9" r="10.2"/><circle cx="1241.8" cy="548.2" r="10.2"/><circle cx="1252.4" cy="548.5" r="10.2"/><circle cx="1263" cy="548.5" r="10.2"/><circle cx="1273.6" cy="548.2" r="10.2"/><circle cx="1284.2" cy="547.1" r="10.2"/><circle cx="1294.8" cy="546.3" r="10.2"/><circle cx="1305.5" cy="545.3" r="10.2"/><circle cx="1316.1" cy="543.5" r="10.2"/><circle cx="1326.7" cy="541.7" r="10.2"/><circle cx="1337.3" cy="539.9" r="10.2"/><circle cx="1347.9" cy="538.1" r="10.2"/><circle cx="1358.5" cy="536.3" r="10.2"/><circle cx="1369.1" cy="533.7" r="10.2"/><circle cx="1379.7" cy="531" r="10.2"/><circle cx="1390.3" cy="528.3" r="10.2"/><circle cx="1400.9" cy="525.8" r="10.2"/><circle cx="1411.6" cy="523.1" r="10.2"/><circle cx="1422.2" cy="519.7" r="10.2"/><circle cx="1432.8" cy="516" r="10.2"/><circle cx="1443.4" cy="511.9" r="10.2"/></g>
<path d="M170,929.6 L203,929.6 L220,929.2 L232.5,927.8 L245,926 L270,924.3 L304,923 L330,921.9 L344.7,919 L359.4,914.6 L374.1,909.4 L388.8,904.3 L399.9,900.6 L410.9,891.8 L421.9,878.5 L432.9,861.6 L440.7,848.4 L451.9,829.9 L461.7,811.4 L469.1,792.8 L475.3,780.5 L485.2,755.8 L491.4,737.3 L497.5,718.8 L503.7,694.1 L509.9,669.4 L514.8,644.7 L518.5,620 L528.8,577.6 L537.6,533.5 L545,496.8 L552.4,460 L559.9,420 L564.3,387 L569.4,357.6 L575.3,328.2 L581.2,298.8 L588.5,269.4 L598.8,240 L607.6,211.3 L619.6,194.8 L628.6,190.3 L646.7,194.8 L658.7,202.3 L673.8,190.3 L688.8,178.2 L700.8,169.8 L712.9,169.2 L721.9,181.2 L733.9,185.7 L743,199.3 L755,226.4 L764,232.4 L779.1,256.4 L794.1,289.5 L806.1,298.6 L818.2,318.1 L830.2,328.6 L845,339.1 L860.1,354.2 L872.1,370.7 L890.2,384.2 L899.5,400 L903,406 L916.9,409.6 L927.3,414.8 L937.8,424.3 L944.7,436.5 L956.9,440 L967.3,450.4 L977.7,460.8 L988.2,450.4 L996.8,461.7 L1007.3,467.8 L1021.2,476.5 L1038.5,483.4 L1052.5,492.1 L1068.1,502.5 L1078.5,516.4 L1090,528.6 L1102.3,539.4 L1120.3,551.5 L1135.4,559 L1150.4,565 L1165.5,569.5 L1177.5,577.1 L1189.5,587.6 L1207.6,592.1 L1219.6,587.6 L1231.6,584.6 L1254.2,595.1 L1264.7,590.6 L1282.8,590.6 L1296.3,596 L1309.9,589.1 L1330.9,583.1 L1355,578.6 L1370,572.5 L1385.1,560.5 L1403.1,554.5 L1415.2,548.5 L1424.2,530.4 L1434.7,534.9 L1445.3,525.9" fill="none" stroke="#0000ff" stroke-width="6.2" stroke-linejoin="round" stroke-linecap="round"/>
<path d="M170,932.5 L186.7,931.3 L195,933.5 L211.8,933 L228.5,932.7 L245.2,927 L262,927 L278.6,924.4 L297,922.8 L307,927.8 L328.8,927 L344.7,923.4 L359.4,919.7 L374.1,914.6 L388.8,910.1 L403.5,906.5 L414.6,896.2 L425.6,881.5 L432.9,871.2 L442,860.7 L453.1,842.2 L464.2,823.7 L474.1,805.2 L481.5,786.7 L488.9,768.1 L493.8,749.6 L498.8,731.1 L508.6,706.4 L518.5,681.7 L523.5,657 L528.4,620 L537.6,577.6 L546.5,533.5 L553.8,496.8 L561.2,460 L567.9,420 L573.8,387 L579.7,357.6 L587.1,328.2 L594.4,298.8 L601.8,269.4 L609.9,240 L613.6,220.3 L628.6,205.3 L637.7,197.8 L658.7,218.8 L670.8,208.3 L690.3,205.3 L700.8,184.2 L715.9,196.3 L730.9,217.3 L743,235.4 L755,247.4 L764,247.4 L776.1,286.5 L791.1,295.5 L807.6,331.6 L818.2,327.1 L830.2,346.7 L842.2,370.8 L849.6,384.2 L860.1,379.7 L875.1,396.3 L887.4,412.2 L896,426.1 L904.7,434.8 L915.2,445.2 L923.8,434.8 L934.3,448.7 L944.7,462.6 L955.1,464.3 L967.3,476.5 L977.7,480.8 L989.9,476.5 L998.6,479.1 L1010.7,504.3 L1021.2,494.7 L1031.6,493 L1042,507.8 L1054.2,514.7 L1064.6,514.7 L1076.8,523.4 L1087.2,528.6 L1096.3,548.5 L1114.3,553 L1129.4,568 L1147.4,592.1 L1162.5,583.1 L1180.5,596.6 L1189.5,583.1 L1201.6,599.6 L1216.6,604.1 L1231.6,607.1 L1243.7,601.1 L1258.7,608.6 L1275.3,604.1 L1293.3,616.2 L1306.9,608.6 L1318.9,611.6 L1336.9,601.1 L1352,592.1 L1364,596.6 L1385.1,580.1 L1400.1,590.6 L1412.2,562 L1424.2,569.5 L1436.2,563.5 L1445.3,553" fill="none" stroke="#ff8000" stroke-width="5.9" stroke-linejoin="round" stroke-linecap="round"/>
</g>
<rect x="589.8" y="571.8" width="501.4" height="342" fill="#fff" stroke="none"/>
<g clip-path="url(#ci)">
<path d="M588.7,843.9 L613.9,831.5 L639.1,813.9 L664.2,791.5 L689.4,770.9 L714.6,742.8 L739.8,718.5 L765,697.9 L790.1,680.3 L815.3,666.1 L840.5,654.8 L865.7,644.7 L890.9,636.1 L916,627.9 L941.2,621.1 L966.4,609.9 L991.6,597.9 L1016.8,582.9 L1041.9,566" fill="none" stroke="#222" stroke-width="1.3" stroke-dasharray="1.5 2.5"/>
<g fill="#fff" stroke="#222" stroke-width="1.6"><rect x="583" y="838.1" width="11.5" height="11.5"/><rect x="608.1" y="825.8" width="11.5" height="11.5"/><rect x="633.3" y="808.1" width="11.5" height="11.5"/><rect x="658.5" y="785.8" width="11.5" height="11.5"/><rect x="683.7" y="765.1" width="11.5" height="11.5"/><rect x="708.9" y="737" width="11.5" height="11.5"/><rect x="734" y="712.8" width="11.5" height="11.5"/><rect x="759.2" y="692.1" width="11.5" height="11.5"/><rect x="784.4" y="674.5" width="11.5" height="11.5"/><rect x="809.6" y="660.4" width="11.5" height="11.5"/><rect x="834.8" y="649" width="11.5" height="11.5"/><rect x="859.9" y="639" width="11.5" height="11.5"/><rect x="885.1" y="630.4" width="11.5" height="11.5"/><rect x="910.3" y="622.1" width="11.5" height="11.5"/><rect x="935.5" y="615.4" width="11.5" height="11.5"/><rect x="960.7" y="604.1" width="11.5" height="11.5"/><rect x="985.8" y="592.1" width="11.5" height="11.5"/><rect x="1011" y="577.1" width="11.5" height="11.5"/><rect x="1036.2" y="560.2" width="11.5" height="11.5"/></g>
<path d="M588.7,872 L613.9,870.1 L639.1,867.5 L664.2,863.7 L689.4,860 L714.6,856.2 L739.8,851.4 L765,845.8 L790.1,840.2 L815.3,834.5 L840.5,830 L865.7,825.2 L890.9,815.1 L916,803.8 L941.2,787.7 L966.4,769 L991.6,745.4 L1016.8,719.6 L1041.9,687.8 L1067.1,651.8 L1092.3,615.5" fill="none" stroke="#808000" stroke-width="1.3" stroke-dasharray="1.5 3"/>
<g fill="#fff" stroke="#808000" stroke-width="1.6"><path d="M588.7,863.5 L597.2,872 L588.7,880.5 L580.2,872Z"/><path d="M613.9,861.6 L622.4,870.1 L613.9,878.6 L605.4,870.1Z"/><path d="M639.1,859 L647.6,867.5 L639.1,876 L630.6,867.5Z"/><path d="M664.2,855.2 L672.7,863.7 L664.2,872.2 L655.7,863.7Z"/><path d="M689.4,851.5 L697.9,860 L689.4,868.5 L680.9,860Z"/><path d="M714.6,847.7 L723.1,856.2 L714.6,864.7 L706.1,856.2Z"/><path d="M739.8,842.9 L748.3,851.4 L739.8,859.9 L731.3,851.4Z"/><path d="M765,837.3 L773.5,845.8 L765,854.3 L756.5,845.8Z"/><path d="M790.1,831.7 L798.6,840.2 L790.1,848.7 L781.6,840.2Z"/><path d="M815.3,826 L823.8,834.5 L815.3,843 L806.8,834.5Z"/><path d="M840.5,821.5 L849,830 L840.5,838.5 L832,830Z"/><path d="M865.7,816.7 L874.2,825.2 L865.7,833.7 L857.2,825.2Z"/><path d="M890.9,806.6 L899.4,815.1 L890.9,823.6 L882.4,815.1Z"/><path d="M916,795.3 L924.5,803.8 L916,812.3 L907.5,803.8Z"/><path d="M941.2,779.2 L949.7,787.7 L941.2,796.2 L932.7,787.7Z"/><path d="M966.4,760.5 L974.9,769 L966.4,777.5 L957.9,769Z"/><path d="M991.6,736.9 L1000.1,745.4 L991.6,753.9 L983.1,745.4Z"/><path d="M1016.8,711.1 L1025.3,719.6 L1016.8,728.1 L1008.3,719.6Z"/><path d="M1041.9,679.3 L1050.4,687.8 L1041.9,696.3 L1033.4,687.8Z"/><path d="M1067.1,643.3 L1075.6,651.8 L1067.1,660.3 L1058.6,651.8Z"/><path d="M1092.3,607 L1100.8,615.5 L1092.3,624 L1083.8,615.5Z"/></g>
<path d="M588.7,873.9 L613.9,870.9 L639.1,869.4 L664.2,867.1 L689.4,863.7 L714.6,858.9 L739.8,852.5 L765,846.9 L790.1,841.3 L815.3,836.4 L840.5,831.5 L865.7,830 L890.9,830 L916,830 L941.2,828.9 L966.4,825.2 L991.6,818.8 L1016.8,809.1 L1041.9,797.1 L1067.1,779.1 L1092.3,759.7" fill="none" stroke="#ff00ff" stroke-width="1.3" stroke-dasharray="1.5 3"/>
<g fill="#fff" stroke="#ff00ff" stroke-width="1.6"><path d="M588.7,867.1 L596.7,880.6 L580.7,880.6Z"/><path d="M613.9,864.1 L621.9,877.6 L605.9,877.6Z"/><path d="M639.1,862.6 L647.1,876.1 L631.1,876.1Z"/><path d="M664.2,860.4 L672.2,873.9 L656.2,873.9Z"/><path d="M689.4,857 L697.4,870.5 L681.4,870.5Z"/><path d="M714.6,852.1 L722.6,865.6 L706.6,865.6Z"/><path d="M739.8,845.8 L747.8,859.2 L731.8,859.2Z"/><path d="M765,840.1 L773,853.6 L757,853.6Z"/><path d="M790.1,834.5 L798.1,848 L782.1,848Z"/><path d="M815.3,829.6 L823.3,843.1 L807.3,843.1Z"/><path d="M840.5,824.8 L848.5,838.2 L832.5,838.2Z"/><path d="M865.7,823.2 L873.7,836.8 L857.7,836.8Z"/><path d="M890.9,823.2 L898.9,836.8 L882.9,836.8Z"/><path d="M916,823.2 L924,836.8 L908,836.8Z"/><path d="M941.2,822.1 L949.2,835.6 L933.2,835.6Z"/><path d="M966.4,818.5 L974.4,832 L958.4,832Z"/><path d="M991.6,812 L999.6,825.5 L983.6,825.5Z"/><path d="M1016.8,802.4 L1024.8,815.9 L1008.8,815.9Z"/><path d="M1041.9,790.4 L1049.9,803.9 L1033.9,803.9Z"/><path d="M1067.1,772.4 L1075.1,785.9 L1059.1,785.9Z"/><path d="M1092.3,753 L1100.3,766.5 L1084.3,766.5Z"/></g>
<path d="M588.7,879.5 L613.9,878.7 L639.1,877.6 L664.2,876.5 L689.4,873.9 L714.6,871.2 L739.8,867.5 L765,863.7 L790.1,860 L815.3,856.2 L840.5,853.3 L865.7,851.4 L890.9,850.3 L916,849.5 L941.2,849.5 L966.4,849.5 L991.6,847.6 L1016.8,845.8 L1041.9,843.9 L1067.1,839 L1092.3,832.7" fill="none" stroke="#ff0000" stroke-width="1.3" stroke-dasharray="1.5 3"/>
<g fill="#fff" stroke="#ff0000" stroke-width="1.6"><circle cx="588.7" cy="879.5" r="7"/><circle cx="613.9" cy="878.7" r="7"/><circle cx="639.1" cy="877.6" r="7"/><circle cx="664.2" cy="876.5" r="7"/><circle cx="689.4" cy="873.9" r="7"/><circle cx="714.6" cy="871.2" r="7"/><circle cx="739.8" cy="867.5" r="7"/><circle cx="765" cy="863.7" r="7"/><circle cx="790.1" cy="860" r="7"/><circle cx="815.3" cy="856.2" r="7"/><circle cx="840.5" cy="853.3" r="7"/><circle cx="865.7" cy="851.4" r="7"/><circle cx="890.9" cy="850.3" r="7"/><circle cx="916" cy="849.5" r="7"/><circle cx="941.2" cy="849.5" r="7"/><circle cx="966.4" cy="849.5" r="7"/><circle cx="991.6" cy="847.6" r="7"/><circle cx="1016.8" cy="845.8" r="7"/><circle cx="1041.9" cy="843.9" r="7"/><circle cx="1067.1" cy="839" r="7"/><circle cx="1092.3" cy="832.7" r="7"/></g>
<path d="M588.7,881.5 L611.7,882.9 L651.8,881.6 L678.6,881.6 L705.3,879.6 L732.1,876.9 L758.8,875.6 L785,874.9 L832.1,873.9 L888.2,872.7 L925.7,875.7 L963.1,872.7 L989.3,876.8 L1011.8,868.2 L1056.7,860.7 L1092.3,851.4" fill="none" stroke="#0000ff" stroke-width="2.8" stroke-linejoin="round"/>
<path d="M588.7,885.6 L614.9,884.8 L665.2,885.6 L712,885.6 L745.4,882.3 L765.5,876.3 L785,875.6 L813.4,879.5 L869.5,873.9 L888.2,871.2 L925.7,878.7 L963.1,877.6 L1000.6,873.9 L1056.7,866.4 L1092.3,860.7" fill="none" stroke="#ff8000" stroke-width="2.8" stroke-linejoin="round"/>
</g>
<rect x="589.8" y="571.8" width="501.4" height="342" fill="none" stroke="#000" stroke-width="2.6"/>
<path d="M840.3,913 V908.5" stroke="#000" stroke-width="2.2"/>
<text x="588.5" y="943" font-family="&apos;Liberation Sans&apos;, sans-serif" font-size="24" font-weight="bold" fill="#000" text-anchor="middle" textLength="56.5" lengthAdjust="spacingAndGlyphs" >7110</text>
<rect x="574.6" y="940.2" width="5.6" height="3.2" fill="#fff"/>
<rect x="583.9" y="940.2" width="4.9" height="3.2" fill="#fff"/>
<rect x="588.8" y="940.2" width="5.6" height="3.2" fill="#fff"/>
<rect x="598" y="940.2" width="4.9" height="3.2" fill="#fff"/>
<text x="840.5" y="943" font-family="&apos;Liberation Sans&apos;, sans-serif" font-size="24" font-weight="bold" fill="#000" text-anchor="middle" textLength="56.5" lengthAdjust="spacingAndGlyphs" >7115</text>
<rect x="826.6" y="940.2" width="5.6" height="3.2" fill="#fff"/>
<rect x="835.9" y="940.2" width="4.9" height="3.2" fill="#fff"/>
<rect x="840.8" y="940.2" width="5.6" height="3.2" fill="#fff"/>
<rect x="850" y="940.2" width="4.9" height="3.2" fill="#fff"/>
<text x="1091.3" y="943" font-family="&apos;Liberation Sans&apos;, sans-serif" font-size="24" font-weight="bold" fill="#000" text-anchor="middle" textLength="56.5" lengthAdjust="spacingAndGlyphs" >7120</text>
<rect x="1077.4" y="940.2" width="5.6" height="3.2" fill="#fff"/>
<rect x="1086.7" y="940.2" width="4.9" height="3.2" fill="#fff"/>
<rect x="169.5" y="104.5" width="1276.2" height="876.5" fill="none" stroke="#000" stroke-width="7"/>
<path d="M213.2,978 V971.5 M255.7,978 V971.5 M298.1,978 V971.5 M340.6,978 V971.5 M383,978 V963 M425.4,978 V971.5 M467.9,978 V971.5 M510.3,978 V971.5 M552.8,978 V971.5 M595.2,978 V963 M637.6,978 V971.5 M680.1,978 V971.5 M722.5,978 V971.5 M765,978 V971.5 M807.4,978 V963 M849.8,978 V971.5 M892.3,978 V971.5 M934.7,978 V971.5 M977.2,978 V971.5 M1019.6,978 V963 M1062,978 V971.5 M1104.5,978 V971.5 M1146.9,978 V971.5 M1189.4,978 V971.5 M1231.8,978 V963 M1274.2,978 V971.5 M1316.7,978 V971.5 M1359.1,978 V971.5 M1401.6,978 V971.5 M173,812.5 H179 M173,690.4 H187 M173,568.3 H179 M173,446.2 H187 M173,324.1 H179 M173,202 H187" stroke="#000" stroke-width="5.5"/>
<text x="169.6" y="1033.6" font-family="&apos;Liberation Sans&apos;, sans-serif" font-size="42.7" font-weight="bold" fill="#000" text-anchor="middle" textLength="92.5" lengthAdjust="spacingAndGlyphs" >7110</text>
<rect x="146.9" y="1028.6" width="9.1" height="5.8" fill="#fff"/>
<rect x="162" y="1028.6" width="8" height="5.8" fill="#fff"/>
<rect x="170" y="1028.6" width="9.1" height="5.8" fill="#fff"/>
<rect x="185.1" y="1028.6" width="8" height="5.8" fill="#fff"/>
<text x="381.8" y="1033.6" font-family="&apos;Liberation Sans&apos;, sans-serif" font-size="42.7" font-weight="bold" fill="#000" text-anchor="middle" textLength="92.5" lengthAdjust="spacingAndGlyphs" >7120</text>
<rect x="359.1" y="1028.6" width="9.1" height="5.8" fill="#fff"/>
<rect x="374.2" y="1028.6" width="8" height="5.8" fill="#fff"/>
<text x="594" y="1033.6" font-family="&apos;Liberation Sans&apos;, sans-serif" font-size="42.7" font-weight="bold" fill="#000" text-anchor="middle" textLength="92.5" lengthAdjust="spacingAndGlyphs" >7130</text>
<rect x="571.3" y="1028.6" width="9.1" height="5.8" fill="#fff"/>
<rect x="586.4" y="1028.6" width="8" height="5.8" fill="#fff"/>
<text x="806.2" y="1033.6" font-family="&apos;Liberation Sans&apos;, sans-serif" font-size="42.7" font-weight="bold" fill="#000" text-anchor="middle" textLength="92.5" lengthAdjust="spacingAndGlyphs" >7140</text>
<rect x="783.5" y="1028.6" width="9.1" height="5.8" fill="#fff"/>
<rect x="798.6" y="1028.6" width="8" height="5.8" fill="#fff"/>
<text x="1018.4" y="1033.6" font-family="&apos;Liberation Sans&apos;, sans-serif" font-size="42.7" font-weight="bold" fill="#000" text-anchor="middle" textLength="92.5" lengthAdjust="spacingAndGlyphs" >7150</text>
<rect x="995.7" y="1028.6" width="9.1" height="5.8" fill="#fff"/>
<rect x="1010.8" y="1028.6" width="8" height="5.8" fill="#fff"/>
<text x="1230.6" y="1033.6" font-family="&apos;Liberation Sans&apos;, sans-serif" font-size="42.7" font-weight="bold" fill="#000" text-anchor="middle" textLength="92.5" lengthAdjust="spacingAndGlyphs" >7160</text>
<rect x="1207.9" y="1028.6" width="9.1" height="5.8" fill="#fff"/>
<rect x="1223" y="1028.6" width="8" height="5.8" fill="#fff"/>
<text x="1442.8" y="1033.6" font-family="&apos;Liberation Sans&apos;, sans-serif" font-size="42.7" font-weight="bold" fill="#000" text-anchor="middle" textLength="92.5" lengthAdjust="spacingAndGlyphs" >7170</text>
<rect x="1420.1" y="1028.6" width="9.1" height="5.8" fill="#fff"/>
<rect x="1435.2" y="1028.6" width="8" height="5.8" fill="#fff"/>
<text x="150.5" y="948.2" font-family="&apos;Liberation Sans&apos;, sans-serif" font-size="45" font-weight="bold" fill="#000" text-anchor="end" textLength="58" lengthAdjust="spacingAndGlyphs" >0,0</text>
<text x="150.5" y="704" font-family="&apos;Liberation Sans&apos;, sans-serif" font-size="45" font-weight="bold" fill="#000" text-anchor="end" textLength="58" lengthAdjust="spacingAndGlyphs" >0,5</text>
<text x="150.5" y="459.8" font-family="&apos;Liberation Sans&apos;, sans-serif" font-size="45" font-weight="bold" fill="#000" text-anchor="end" textLength="58" lengthAdjust="spacingAndGlyphs" >1,0</text>
<rect x="92.9" y="454.5" width="9.2" height="6.1" fill="#fff"/>
<rect x="108.1" y="454.5" width="8" height="6.1" fill="#fff"/>
<text x="150.5" y="215.6" font-family="&apos;Liberation Sans&apos;, sans-serif" font-size="45" font-weight="bold" fill="#000" text-anchor="end" textLength="58" lengthAdjust="spacingAndGlyphs" >1,5</text>
<rect x="92.9" y="210.3" width="9.2" height="6.1" fill="#fff"/>
<rect x="108.1" y="210.3" width="8" height="6.1" fill="#fff"/>
<text transform="translate(0,1100.7) scale(1,1.03)" x="613.3 664.2 711.1 755.7 791.1 837.8 896.5 914.6 944.9 982" y="0" font-family="&apos;Liberation Sans&apos;, sans-serif" font-size="53.5" font-weight="bold" fill="#000">Energy(eV)</text>
<text transform="translate(50,0) scale(1.06,1) rotate(-90)" x="-811.9 -757.1 -709.1 -662.6 -611.7 -576.4 -543.4 -512.3 -462.8 -400.5 -380.1 -346.9 -301.9 -270.2 -254.1" y="0" font-family="&apos;Liberation Sans&apos;, sans-serif" font-size="54" font-weight="bold" fill="#000">Absortion(u.a.)</text>
<text x="658" y="161.7" font-family="&apos;Liberation Sans&apos;, sans-serif" font-size="42" font-weight="bold" fill="#000" text-anchor="start" >B</text>
<text x="951.5" y="402.3" font-family="&apos;Liberation Sans&apos;, sans-serif" font-size="42" font-weight="bold" fill="#000" text-anchor="start" >C</text>
<text x="238" y="863.4" font-family="&apos;Liberation Sans&apos;, sans-serif" font-size="44" font-weight="bold" fill="#000" text-anchor="start" >A</text>
<text x="1145.5" y="211.5" font-family="&apos;Liberation Serif&apos;, serif" font-size="50" font-weight="bold" fill="#000">x</text>
<text x="1181.8" y="210.7" font-family="&apos;Liberation Sans&apos;, sans-serif" font-size="49.5" font-weight="bold" fill="#000" text-anchor="start" textLength="134" lengthAdjust="spacingAndGlyphs" >= 0.03</text>
<text x="1173" y="271" font-family="&apos;Liberation Sans&apos;, sans-serif" font-size="47" font-weight="bold" fill="#000">SnCl<tspan font-size="34" dy="14.5">2</tspan></text>
<path d="M202,143.1 H297.5" stroke="#0000ff" stroke-width="6" stroke-linecap="round"/>
<path d="M202,197.2 H297.5" stroke="#ff8000" stroke-width="6" stroke-linecap="round"/>
<text x="309.5" y="159.1" font-family="&apos;Liberation Sans&apos;, sans-serif" font-size="42" font-weight="bold" fill="#0000ff" text-anchor="start" >3h</text>
<text x="310" y="212.7" font-family="&apos;Liberation Sans&apos;, sans-serif" font-size="42" font-weight="bold" fill="#808000" text-anchor="start" >12h</text>
<rect x="310.4" y="207.7" width="9.2" height="5.7" fill="#fff"/>
<rect x="325.7" y="207.7" width="8" height="5.7" fill="#fff"/>
<path d="M201.7,251.8 H298.3" stroke="#333" stroke-width="2"/>
<rect x="240" y="242.3" width="19" height="19" fill="#fff" stroke="#000" stroke-width="2"/>
<text x="310" y="266.4" font-family="&apos;Liberation Serif&apos;, serif" font-size="44" fill="#000">α</text>
<text x="345.5" y="266.4" font-family="&apos;Liberation Sans&apos;, sans-serif" font-size="42" font-weight="bold" fill="#000" text-anchor="start" >Fe</text>
<path d="M201.7,304.1 H298.3" stroke="#808000" stroke-width="1.3" stroke-dasharray="4 3" opacity="0.45"/>
<path d="M249.8,291.3 L263,304.5 L249.8,317.7 L236.6,304.5Z" fill="#fff" stroke="#808000" stroke-width="2.2"/>
<text x="310" y="319.5" font-family="&apos;Liberation Sans&apos;, sans-serif" font-size="42" font-weight="bold" fill="#808000" text-anchor="start" >FeO</text>
<path d="M201.7,357.6 H298.3" stroke="#ff00ff" stroke-width="1.3" stroke-dasharray="4 3" opacity="0.45"/>
<path d="M249.5,343 L261.5,365 L237.5,365Z" fill="#fff" stroke="#ff00ff" stroke-width="2"/>
<text x="310" y="372.7" font-family="&apos;Liberation Sans&apos;, sans-serif" font-size="42" font-weight="bold" fill="#ff00ff">Fe<tspan font-size="29" dy="13">3</tspan><tspan dy="-13">O</tspan><tspan font-size="29" dy="13">4</tspan></text>
<path d="M201.7,422.2 H298.3" stroke="#ff0000" stroke-width="2"/>
<circle cx="249.8" cy="422" r="11" fill="#fff" stroke="#ff0000" stroke-width="2"/>
<text x="310" y="437.9" font-family="&apos;Liberation Serif&apos;, serif" font-size="44" fill="#ff0000">α</text>
<text x="345.5" y="437.9" font-family="&apos;Liberation Sans&apos;, sans-serif" font-size="42" font-weight="bold" fill="#ff0000">Fe<tspan font-size="29" dy="13">2</tspan><tspan dy="-13">O</tspan><tspan font-size="29" dy="13">3</tspan></text>
<g clip-path="url(#cb)">
<path d="M466.3,1213.6 V2097" stroke="#000" stroke-width="4" stroke-dasharray="10 9"/>
<path d="M537.2,1204.7 V2097" stroke="#000" stroke-width="4" stroke-dasharray="10 9"/>
<path d="M637.9,1217.6 V2097" stroke="#000" stroke-width="4" stroke-dasharray="10 9"/>
<path d="M893.3,1210 V2097" stroke="#000" stroke-width="4" stroke-dasharray="10 9"/>
<path d="M183.5,1477.8 C187.9,1477.2 201.9,1475.4 210,1474.5 C218.1,1473.6 225.3,1472.5 232,1472.5 C238.7,1472.5 245,1473.9 250,1474.5 C255,1475.1 257.8,1476.2 262,1476 C266.2,1475.8 270.8,1474.7 275,1473 C279.2,1471.3 281.6,1468 287,1466 C292.4,1464 299.6,1462.7 307.5,1461 C315.4,1459.3 327,1457.7 334.2,1456 C341.4,1454.3 345.3,1454.6 350.9,1451 C356.5,1447.4 362.1,1440.8 367.6,1434.3 C373.1,1427.8 378.4,1419.8 384,1412 C389.6,1404.2 395.4,1396.7 401.1,1387.5 C406.8,1378.3 412.4,1367 418,1357 C423.6,1347 428.4,1338.3 434.5,1327.3 C440.6,1316.3 449,1301 454.4,1291.1 C459.8,1281.1 462.9,1273.9 467.1,1267.6 C471.3,1261.3 475.5,1256.6 479.7,1253.2 C483.9,1249.8 488.1,1247.3 492.3,1247 C496.5,1246.7 500.8,1247.7 505,1251.4 C509.2,1255.1 513.7,1262.2 517.6,1269.4 C521.5,1276.6 525.1,1285.7 528.4,1294.7 C531.7,1303.7 534.2,1313.4 537.5,1323.6 C540.8,1333.8 544.7,1345.9 548.3,1356.1 C551.9,1366.3 555.5,1377.5 559.1,1385 C562.7,1392.5 565.8,1397.6 570,1401.2 C574.2,1404.8 579,1405.5 584.4,1406.6 C589.8,1407.7 597.1,1407 602.5,1407.7 C607.9,1408.4 612.7,1411.1 616.9,1410.9 C621.1,1410.7 624.2,1409.7 627.7,1406.6 C631.2,1403.5 634.2,1400 637.8,1392.2 C641.4,1384.4 645.1,1372.3 649.4,1359.7 C653.7,1347.1 659,1330.2 663.8,1316.4 C668.6,1302.6 673.5,1287.1 678.3,1276.6 C683.1,1266.1 687.6,1258.4 692.7,1253.2 C697.8,1248 703.5,1245.5 708.9,1245.2 C714.3,1244.9 720.1,1247.4 725.2,1251.4 C730.3,1255.4 734.8,1262.2 739.6,1269.4 C744.4,1276.6 749.3,1287.2 754.1,1294.7 C758.9,1302.2 763.1,1309.7 768.5,1314.5 C773.9,1319.3 778.8,1322.1 786.6,1323.6 C794.4,1325.1 807.7,1322.4 815.5,1323.6 C823.3,1324.8 827.5,1326.6 833.5,1330.8 C839.5,1335 845,1341.6 851.6,1348.8 C858.2,1356 866.3,1367.2 873.2,1374.1 C880.1,1381 885.9,1385.3 893.1,1390.4 C900.3,1395.5 907.8,1399.7 916.5,1404.8 C925.2,1409.9 937.6,1415.9 945.4,1421 C953.2,1426.1 957.5,1431 963.5,1435.5 C969.5,1440 974.9,1442.6 981.5,1448 C988.1,1453.4 996.7,1463.2 1003,1467.7 C1009.3,1472.2 1014.3,1474.5 1019.1,1474.8 C1023.9,1475.1 1026,1472.5 1031.7,1469.5 C1037.4,1466.5 1044.9,1460.2 1053.2,1456.9 C1061.5,1453.6 1072.2,1450.4 1081.8,1449.8 C1091.3,1449.2 1101.5,1452.1 1110.5,1453.3 C1119.5,1454.5 1127.8,1457.8 1135.6,1456.9 C1143.4,1456 1149.3,1451.6 1157.1,1448 C1164.8,1444.4 1173.1,1438.7 1182.1,1435.4 C1191,1432.1 1201.8,1428.3 1210.8,1428.3 C1219.8,1428.3 1228.1,1432.1 1235.9,1435.4 C1243.7,1438.7 1249.6,1442.6 1257.4,1448 C1265.2,1453.4 1273.5,1461.7 1282.5,1467.7 C1291.5,1473.7 1301.5,1482.9 1311.1,1483.8 C1320.6,1484.7 1329,1476.1 1339.8,1473 C1350.5,1469.9 1363.6,1465.8 1375.6,1465.2 C1387.5,1464.6 1397.8,1467.9 1411.5,1469.5 C1425.2,1471.1 1450.2,1473.9 1458,1474.8" fill="none" stroke="#ff0000" stroke-width="6.1" stroke-linejoin="round" stroke-linecap="round"/>
<path d="M183.6,1760.9 C186.6,1761.6 196,1763.4 201.7,1765.2 C207.4,1767 211.9,1772 217.9,1771.7 C223.9,1771.4 231.2,1765.8 237.8,1763.4 C244.4,1761 251.6,1757.7 257.6,1757.3 C263.6,1756.9 268.2,1759 273.9,1760.9 C279.6,1762.8 285.9,1769.6 291.9,1768.8 C297.9,1768 304,1760.1 310,1756.2 C316,1752.3 322.6,1746.3 328,1745.3 C333.4,1744.3 337.4,1746.4 342.5,1750 C347.6,1753.6 354.5,1766.9 358.7,1767 C362.9,1767.1 363.8,1762.5 367.7,1750.8 C371.6,1739.1 377.4,1715.9 382.2,1696.6 C387,1677.3 391.8,1653.8 396.6,1635.2 C401.4,1616.6 406.2,1599.7 411,1584.7 C415.8,1569.7 420.7,1553.7 425.5,1545 C430.3,1536.3 435.1,1532.3 439.9,1532.3 C444.7,1532.3 449.9,1538.7 454.4,1545 C458.9,1551.3 462.8,1560.7 467,1570.3 C471.2,1579.9 475.4,1591.9 479.6,1602.7 C483.8,1613.5 488.1,1627.1 492.3,1635.2 C496.5,1643.3 500.4,1649.4 504.9,1651.5 C509.4,1653.6 514.3,1650 519.4,1647.9 C524.5,1645.8 530.8,1638.5 535.6,1638.8 C540.4,1639.1 543.7,1642.5 548.2,1649.7 C552.7,1656.9 557.9,1668.4 562.7,1682.2 C567.5,1696 572.6,1718.6 577.1,1732.7 C581.6,1746.8 585.5,1765.8 589.7,1767 C593.9,1768.2 598.5,1748 602.4,1739.9 C606.3,1731.8 608.7,1724 613.2,1718.3 C617.7,1712.6 624.7,1706.8 629.5,1705.6 C634.3,1704.4 637.6,1706.5 642.1,1711 C646.6,1715.5 651.4,1726 656.5,1732.7 C661.6,1739.5 667.4,1751.5 672.8,1751.5 C678.2,1751.5 683.6,1738.2 689,1732.7 C694.4,1727.2 701.1,1721 705.3,1718.3 C709.5,1715.6 709.3,1714.4 714.4,1716.5 C719.5,1718.6 729.2,1726.7 736.1,1730.9 C743,1735.1 748.8,1743.2 756,1741.7 C763.2,1740.2 771.6,1726.4 779.4,1721.9 C787.2,1717.4 795.7,1714.4 802.9,1714.7 C810.1,1715 816.4,1719.5 822.7,1723.7 C829,1727.9 835.1,1736.2 840.8,1740 C846.5,1743.8 851,1746.7 857,1746.4 C863,1746.1 870.6,1740.6 876.9,1738.1 C883.2,1735.6 888.9,1731.8 894.9,1731.6 C900.9,1731.4 906.4,1733.2 913,1737 C919.6,1740.8 928.1,1749.4 934.7,1754.4 C941.3,1759.4 947.3,1764.3 952.7,1767 C958.1,1769.7 961.1,1770.9 967.1,1770.6 C973.1,1770.3 981.6,1767.2 988.8,1765.2 C996,1763.2 1002.7,1761.8 1010.5,1758.7 C1018.3,1755.6 1027.3,1750.2 1035.7,1746.4 C1044.1,1742.6 1055,1737.7 1061,1735.6 C1067,1733.5 1067,1733.7 1071.8,1733.8 C1076.6,1733.9 1083.3,1733.5 1089.9,1736.3 C1096.5,1739.1 1104.1,1745.4 1111.6,1750.8 C1119.1,1756.2 1126.6,1768.1 1135,1768.8 C1143.4,1769.5 1152.4,1758 1161.8,1754.8 C1171.2,1751.6 1182,1749.8 1191.5,1749.8 C1201,1749.8 1208.8,1752.1 1218.7,1754.8 C1228.6,1757.5 1241,1765.5 1250.9,1765.9 C1260.8,1766.3 1268.2,1759.3 1278.1,1757.2 C1288,1755.1 1298.7,1753.5 1310.2,1753.5 C1321.7,1753.5 1334.9,1755.8 1347.3,1757.2 C1359.7,1758.7 1372,1762.8 1384.4,1762.2 C1396.8,1761.6 1409.5,1755.2 1421.5,1753.5 C1433.5,1751.8 1450.4,1752.5 1456.2,1752.3" fill="none" stroke="#ff8000" stroke-width="6.1" stroke-linejoin="round" stroke-linecap="round"/>
<path d="M183.6,2059.9 C189,2059.6 204.7,2058.8 216.1,2058.1 C227.5,2057.4 238.4,2056.8 252.2,2055.6 C266,2054.4 287.1,2053.1 299.1,2050.9 C311.1,2048.7 317.2,2045 324.4,2042.6 C331.6,2040.2 335.9,2038.7 342.5,2036.5 C349.1,2034.3 358.1,2032.5 364.1,2029.2 C370.1,2025.9 373.8,2022.9 378.6,2016.6 C383.4,2010.3 388.2,2000.9 393,1991.3 C397.8,1981.7 402.6,1970.8 407.4,1958.8 C412.2,1946.8 417.1,1931.4 421.9,1919.1 C426.7,1906.8 431.5,1894.7 436.3,1884.8 C441.1,1874.9 445.7,1865.6 450.8,1859.6 C455.9,1853.6 461.6,1849.3 467,1848.7 C472.4,1848.1 476.9,1851.8 483.2,1856 C489.5,1860.2 498.9,1868.6 504.9,1874 C510.9,1879.4 514,1880.9 519.4,1888.4 C524.8,1895.9 532,1908.6 537.4,1919.1 C542.8,1929.6 547,1940.2 551.8,1951.6 C556.6,1963 561.5,1977.5 566.3,1987.7 C571.1,1997.9 575.3,2005.8 580.7,2013 C586.1,2020.2 593.4,2025.9 598.8,2031 C604.2,2036.1 608.4,2044.6 613.2,2043.7 C618,2042.8 623.4,2031.6 627.6,2025.6 C631.8,2019.6 634.3,2012.1 638.5,2007.6 C642.7,2003.1 648.1,1997.7 652.9,1998.6 C657.7,1999.5 662.6,2005.2 667.4,2013 C672.2,2020.8 677.6,2036.6 681.8,2045.5 C686,2054.4 689,2067.6 692.6,2066.4 C696.2,2065.2 699.9,2048.1 703.5,2038.3 C707.1,2028.5 710.5,2014.5 714.4,2007.6 C718.3,2000.7 722.9,1997.1 727.1,1996.8 C731.3,1996.5 735.5,2000.1 739.7,2005.8 C743.9,2011.5 748.1,2022 752.3,2031 C756.5,2040 760.5,2059.9 765,2059.9 C769.5,2059.9 774.9,2039.4 779.4,2031 C783.9,2022.6 787.9,2013.7 792.1,2009.4 C796.3,2005.1 800.2,2003.9 804.7,2005.1 C809.2,2006.3 814.6,2012 819.1,2016.6 C823.6,2021.2 827.9,2029.3 831.8,2032.9 C835.7,2036.5 838.7,2039.5 842.6,2038.3 C846.5,2037.1 850.7,2030.5 855.2,2025.6 C859.7,2020.7 864.9,2013.1 869.7,2008.7 C874.5,2004.3 879.9,2000.9 884.1,1999.3 C888.3,1997.7 890.7,1997.9 894.9,1999.3 C899.1,2000.7 903.4,2003.5 909.4,2007.6 C915.4,2011.7 923.8,2019.2 931,2023.8 C938.2,2028.4 944.9,2032.1 952.7,2035.4 C960.5,2038.7 969.6,2040.5 978,2043.7 C986.4,2046.9 995.4,2051.3 1003.2,2054.5 C1011,2057.7 1018.3,2062.4 1024.9,2062.8 C1031.5,2063.2 1036.4,2059.4 1043,2057 C1049.6,2054.6 1058,2049.4 1064.6,2048.4 C1071.2,2047.4 1077.3,2049 1082.7,2050.9 C1088.1,2052.8 1092.8,2056.6 1097.1,2059.9 C1101.4,2063.2 1104.1,2071.4 1108.7,2071 C1113.3,2070.6 1118.3,2061.1 1124.7,2057.4 C1131.1,2053.7 1140,2049.8 1147,2048.8 C1154,2047.8 1160.6,2050.1 1166.8,2051.3 C1173,2052.5 1177.9,2056.4 1184.1,2056.2 C1190.3,2056 1197.7,2051.5 1203.9,2050 C1210.1,2048.5 1215.4,2046.9 1221.2,2047.1 C1227,2047.3 1231.1,2048.6 1238.5,2051.3 C1245.9,2054.1 1256.6,2063.4 1265.7,2063.6 C1274.8,2063.8 1283.4,2054.8 1292.9,2052.5 C1302.4,2050.2 1313.5,2051.7 1322.6,2050 C1331.7,2048.3 1339.5,2044.6 1347.3,2042.6 C1355.1,2040.5 1362.2,2037.5 1369.6,2037.7 C1377,2037.9 1383.7,2040.7 1391.9,2043.8 C1400.2,2046.9 1408.4,2054 1419.1,2056.2 C1429.8,2058.4 1450,2056.9 1456.2,2057" fill="none" stroke="#0000ff" stroke-width="6.1" stroke-linejoin="round" stroke-linecap="round"/>
</g>
<path d="M186,1467.2 H1456 M186,1802.2 H1456" stroke="#000" stroke-width="3"/>
<rect x="183.5" y="1207.5" width="1275.1" height="893" fill="none" stroke="#000" stroke-width="6"/>
<path d="M267.6,2097.5 V2091 M352.7,2097.5 V2091 M437.7,2097.5 V2091 M522.8,2097.5 V2091 M607.9,2097.5 V2083.5 M693,2097.5 V2091 M778.1,2097.5 V2091 M863.1,2097.5 V2091 M948.2,2097.5 V2091 M1033.3,2097.5 V2083.5 M1118.4,2097.5 V2091 M1203.5,2097.5 V2091 M1288.5,2097.5 V2091 M1373.6,2097.5 V2091 M186,1300.7 H199.5 M186,1393.5 H199.5 M186,1485.8 H199.5 M186,1529.7 H199.5 M186,1579.2 H199.5 M186,1628.6 H199.5 M186,1678.8 H199.5 M186,1728.3 H199.5 M186,1777.8 H199.5 M186,1833.1 H199.5 M186,1892.8 H199.5 M186,1952.5 H199.5 M186,2011.4 H199.5 M186,2071.1 H199.5" stroke="#000" stroke-width="5.8"/>
<text x="163.2" y="1218.8" font-family="&apos;Liberation Sans&apos;, sans-serif" font-size="39.5" font-weight="bold" fill="#000" text-anchor="end" textLength="51.7" lengthAdjust="spacingAndGlyphs" >1,5</text>
<rect x="111.9" y="1214.1" width="8.2" height="5.3" fill="#fff"/>
<rect x="125.4" y="1214.1" width="7.1" height="5.3" fill="#fff"/>
<text x="163.2" y="1312" font-family="&apos;Liberation Sans&apos;, sans-serif" font-size="39.5" font-weight="bold" fill="#000" text-anchor="end" textLength="51.7" lengthAdjust="spacingAndGlyphs" >1,0</text>
<rect x="111.9" y="1307.3" width="8.2" height="5.3" fill="#fff"/>
<rect x="125.4" y="1307.3" width="7.1" height="5.3" fill="#fff"/>
<text x="163.2" y="1404.8" font-family="&apos;Liberation Sans&apos;, sans-serif" font-size="39.5" font-weight="bold" fill="#000" text-anchor="end" textLength="51.7" lengthAdjust="spacingAndGlyphs" >0,5</text>
<text x="163.2" y="1497.1" font-family="&apos;Liberation Sans&apos;, sans-serif" font-size="39.5" font-weight="bold" fill="#000" text-anchor="end" textLength="51.7" lengthAdjust="spacingAndGlyphs" >0,0</text>
<text x="163.2" y="1541" font-family="&apos;Liberation Sans&apos;, sans-serif" font-size="39.5" font-weight="bold" fill="#000" text-anchor="end" textLength="51.7" lengthAdjust="spacingAndGlyphs" >2,5</text>
<text x="163.2" y="1590.5" font-family="&apos;Liberation Sans&apos;, sans-serif" font-size="39.5" font-weight="bold" fill="#000" text-anchor="end" textLength="51.7" lengthAdjust="spacingAndGlyphs" >2,0</text>
<text x="163.2" y="1639.9" font-family="&apos;Liberation Sans&apos;, sans-serif" font-size="39.5" font-weight="bold" fill="#000" text-anchor="end" textLength="51.7" lengthAdjust="spacingAndGlyphs" >1,5</text>
<rect x="111.9" y="1635.2" width="8.2" height="5.3" fill="#fff"/>
<rect x="125.4" y="1635.2" width="7.1" height="5.3" fill="#fff"/>
<text x="163.2" y="1690.1" font-family="&apos;Liberation Sans&apos;, sans-serif" font-size="39.5" font-weight="bold" fill="#000" text-anchor="end" textLength="51.7" lengthAdjust="spacingAndGlyphs" >1,0</text>
<rect x="111.9" y="1685.4" width="8.2" height="5.3" fill="#fff"/>
<rect x="125.4" y="1685.4" width="7.1" height="5.3" fill="#fff"/>
<text x="163.2" y="1739.6" font-family="&apos;Liberation Sans&apos;, sans-serif" font-size="39.5" font-weight="bold" fill="#000" text-anchor="end" textLength="51.7" lengthAdjust="spacingAndGlyphs" >0,5</text>
<text x="163.2" y="1789.1" font-family="&apos;Liberation Sans&apos;, sans-serif" font-size="39.5" font-weight="bold" fill="#000" text-anchor="end" textLength="51.7" lengthAdjust="spacingAndGlyphs" >0,0</text>
<text x="163.2" y="1844.4" font-family="&apos;Liberation Sans&apos;, sans-serif" font-size="39.5" font-weight="bold" fill="#000" text-anchor="end" textLength="51.7" lengthAdjust="spacingAndGlyphs" >2,0</text>
<text x="163.2" y="1904.1" font-family="&apos;Liberation Sans&apos;, sans-serif" font-size="39.5" font-weight="bold" fill="#000" text-anchor="end" textLength="51.7" lengthAdjust="spacingAndGlyphs" >1,5</text>
<rect x="111.9" y="1899.4" width="8.2" height="5.3" fill="#fff"/>
<rect x="125.4" y="1899.4" width="7.1" height="5.3" fill="#fff"/>
<text x="163.2" y="1963.8" font-family="&apos;Liberation Sans&apos;, sans-serif" font-size="39.5" font-weight="bold" fill="#000" text-anchor="end" textLength="51.7" lengthAdjust="spacingAndGlyphs" >1,0</text>
<rect x="111.9" y="1959.1" width="8.2" height="5.3" fill="#fff"/>
<rect x="125.4" y="1959.1" width="7.1" height="5.3" fill="#fff"/>
<text x="163.2" y="2022.7" font-family="&apos;Liberation Sans&apos;, sans-serif" font-size="39.5" font-weight="bold" fill="#000" text-anchor="end" textLength="51.7" lengthAdjust="spacingAndGlyphs" >0,5</text>
<text x="163.2" y="2082.4" font-family="&apos;Liberation Sans&apos;, sans-serif" font-size="39.5" font-weight="bold" fill="#000" text-anchor="end" textLength="51.7" lengthAdjust="spacingAndGlyphs" >0,0</text>
<text x="182.5" y="2154.5" font-family="&apos;Liberation Sans&apos;, sans-serif" font-size="45.5" font-weight="bold" fill="#000" text-anchor="middle" >0</text>
<text x="607.9" y="2154.5" font-family="&apos;Liberation Sans&apos;, sans-serif" font-size="45.5" font-weight="bold" fill="#000" text-anchor="middle" >2</text>
<text x="1033.3" y="2154.5" font-family="&apos;Liberation Sans&apos;, sans-serif" font-size="45.5" font-weight="bold" fill="#000" text-anchor="middle" >4</text>
<text x="1458.7" y="2154.5" font-family="&apos;Liberation Sans&apos;, sans-serif" font-size="45.5" font-weight="bold" fill="#000" text-anchor="middle" >6</text>
<text transform="translate(0,2219) scale(1,1.04)" x="498.7" y="0" font-family="&apos;Liberation Sans&apos;, sans-serif" font-size="55.1" font-weight="bold" fill="#000" textLength="627.7" lengthAdjust="spacingAndGlyphs" xml:space="preserve">Interatomic distance (A)</text>
<circle cx="1084.8" cy="2168.6" r="7.1" fill="none" stroke="#000" stroke-width="2.8"/>
<text transform="translate(82,0) scale(1.045,1) rotate(-90)" x="-2131.9" y="0" font-family="&apos;Liberation Sans&apos;, sans-serif" font-size="54" font-weight="bold" fill="#000" textLength="948.6" lengthAdjust="spacingAndGlyphs">Fourier transformed magnitude (a.u.)</text>
<path d="M987,1326.9 H1096" stroke="#ff0000" stroke-width="5" stroke-linecap="round"/>
<text x="1106" y="1343.4" font-family="&apos;Liberation Sans&apos;, sans-serif" font-size="46.5" font-weight="bold" fill="#ff0000" text-anchor="start" textLength="197" lengthAdjust="spacingAndGlyphs" >Hematite</text>
<text x="1160.5" y="1577.9" font-family="&apos;Liberation Sans&apos;, sans-serif" font-size="45" font-weight="bold" fill="#808000" text-anchor="start" textLength="93.5" lengthAdjust="spacingAndGlyphs" >12 h</text>
<rect x="1161" y="1572.6" width="10.3" height="6.1" fill="#fff"/>
<rect x="1178" y="1572.6" width="8.9" height="6.1" fill="#fff"/>
<path d="M989,1653.3 H1097" stroke="#ff8000" stroke-width="5" stroke-linecap="round"/>
<text x="1119.5" y="1669.4" font-family="&apos;Liberation Sans&apos;, sans-serif" font-size="46.5" font-weight="bold" fill="#808000" textLength="292" lengthAdjust="spacingAndGlyphs">Sn<tspan font-size="31" dy="11">0.97</tspan><tspan dy="-11">Fe</tspan><tspan font-size="31" dy="11">0.03</tspan><tspan dy="-11">O</tspan><tspan font-size="31" dy="11">2</tspan></text>
<text x="1183" y="1890.5" font-family="&apos;Liberation Sans&apos;, sans-serif" font-size="46.5" font-weight="bold" fill="#0000ff" text-anchor="start" textLength="66" lengthAdjust="spacingAndGlyphs" >3 h</text>
<path d="M992,1951.6 H1099" stroke="#0000ff" stroke-width="5" stroke-linecap="round"/>
<text x="1111" y="1967.2" font-family="&apos;Liberation Sans&apos;, sans-serif" font-size="46.5" font-weight="bold" fill="#0000ff" textLength="292" lengthAdjust="spacingAndGlyphs">Sn<tspan font-size="31" dy="11">0.97</tspan><tspan dy="-11">Fe</tspan><tspan font-size="31" dy="11">0.03</tspan><tspan dy="-11">O</tspan><tspan font-size="31" dy="11">2</tspan></text>
</svg>
</body></html>
